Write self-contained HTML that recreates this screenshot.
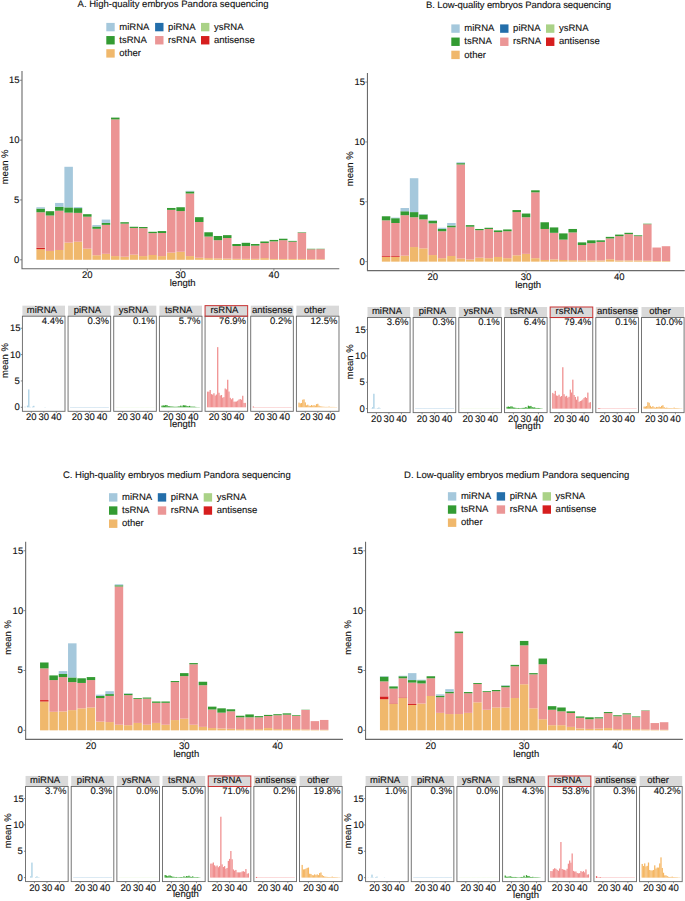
<!DOCTYPE html>
<html><head><meta charset="utf-8"><title>Pandora sequencing length distributions</title>
<style>
html,body{margin:0;padding:0;background:#fff;}
svg{display:block;text-rendering:geometricPrecision;}
.t{font-family:"Liberation Sans", sans-serif;font-size:9.5px;fill:#111;stroke:#111;stroke-width:0.12px;}
</style></head>
<body>
<svg width="685" height="901" viewBox="0 0 685 901">
<rect width="685" height="901" fill="#fff"/>
<text x="77.55" y="7.4" textLength="191" lengthAdjust="spacing" class="t">A. High-quality embryos Pandora sequencing</text>
<rect x="106.3" y="22.9" width="8.4" height="8.4" fill="#A5C8DC"/>
<text x="119.3" y="29.7" class="t">miRNA</text>
<rect x="155.1" y="22.9" width="8.4" height="8.4" fill="#236EAA"/>
<text x="168.1" y="29.7" class="t">piRNA</text>
<rect x="201" y="22.9" width="8.4" height="8.4" fill="#AAD287"/>
<text x="214" y="29.7" class="t">ysRNA</text>
<rect x="106.3" y="36.05" width="8.4" height="8.4" fill="#339B32"/>
<text x="119.3" y="42.85" class="t">tsRNA</text>
<rect x="155.1" y="36.05" width="8.4" height="8.4" fill="#EB9696"/>
<text x="168.1" y="42.85" class="t">rsRNA</text>
<rect x="201" y="36.05" width="8.4" height="8.4" fill="#D61E1E"/>
<text x="214" y="42.85" class="t">antisense</text>
<rect x="106.3" y="49.2" width="8.4" height="8.4" fill="#F0B86C"/>
<text x="119.3" y="56" class="t">other</text>
<g transform="translate(0,0)">
<rect x="36.4" y="249.15" width="8.5" height="10.65" fill="#F0B86C"/>
<rect x="36.4" y="247.83" width="8.5" height="1.32" fill="#D61E1E"/>
<rect x="36.4" y="212.28" width="8.5" height="35.55" fill="#EC9494"/>
<rect x="36.4" y="208.57" width="8.5" height="3.71" fill="#339B32"/>
<rect x="36.4" y="207.25" width="8.5" height="1.32" fill="#A5C8DC"/>
<rect x="45.73" y="250.94" width="8.5" height="8.86" fill="#F0B86C"/>
<rect x="45.73" y="215.51" width="8.5" height="35.43" fill="#EC9494"/>
<rect x="45.73" y="211.2" width="8.5" height="4.31" fill="#339B32"/>
<rect x="55.06" y="249.98" width="8.5" height="9.82" fill="#F0B86C"/>
<rect x="55.06" y="210.72" width="8.5" height="39.26" fill="#EC9494"/>
<rect x="55.06" y="206.77" width="8.5" height="3.95" fill="#339B32"/>
<rect x="55.06" y="202.94" width="8.5" height="3.83" fill="#A5C8DC"/>
<rect x="64.39" y="242.56" width="8.5" height="17.24" fill="#F0B86C"/>
<rect x="64.39" y="212.64" width="8.5" height="29.93" fill="#EC9494"/>
<rect x="64.39" y="207.37" width="8.5" height="5.27" fill="#339B32"/>
<rect x="64.39" y="166.79" width="8.5" height="40.58" fill="#A5C8DC"/>
<rect x="73.72" y="241.73" width="8.5" height="18.07" fill="#F0B86C"/>
<rect x="73.72" y="212.88" width="8.5" height="28.85" fill="#EC9494"/>
<rect x="73.72" y="208.09" width="8.5" height="4.79" fill="#339B32"/>
<rect x="73.72" y="207.13" width="8.5" height="0.96" fill="#A5C8DC"/>
<rect x="83.05" y="248.67" width="8.5" height="11.13" fill="#F0B86C"/>
<rect x="83.05" y="216.71" width="8.5" height="31.96" fill="#EC9494"/>
<rect x="83.05" y="214.19" width="8.5" height="2.51" fill="#339B32"/>
<rect x="92.38" y="255.25" width="8.5" height="4.55" fill="#F0B86C"/>
<rect x="92.38" y="228.8" width="8.5" height="26.45" fill="#EC9494"/>
<rect x="92.38" y="226.52" width="8.5" height="2.27" fill="#339B32"/>
<rect x="92.38" y="225.09" width="8.5" height="1.44" fill="#A5C8DC"/>
<rect x="101.71" y="253.81" width="8.5" height="5.99" fill="#F0B86C"/>
<rect x="101.71" y="224.85" width="8.5" height="28.97" fill="#EC9494"/>
<rect x="101.71" y="222.93" width="8.5" height="1.92" fill="#339B32"/>
<rect x="101.71" y="219.58" width="8.5" height="3.35" fill="#A5C8DC"/>
<rect x="111.04" y="256.09" width="8.5" height="3.71" fill="#F0B86C"/>
<rect x="111.04" y="119.39" width="8.5" height="136.7" fill="#EC9494"/>
<rect x="111.04" y="117.6" width="8.5" height="1.8" fill="#339B32"/>
<rect x="120.37" y="256.69" width="8.5" height="3.11" fill="#F0B86C"/>
<rect x="120.37" y="223.65" width="8.5" height="33.04" fill="#EC9494"/>
<rect x="120.37" y="222.21" width="8.5" height="1.44" fill="#339B32"/>
<rect x="129.7" y="254.65" width="8.5" height="5.15" fill="#F0B86C"/>
<rect x="129.7" y="227.96" width="8.5" height="26.69" fill="#EC9494"/>
<rect x="129.7" y="226.76" width="8.5" height="1.2" fill="#339B32"/>
<rect x="139.03" y="256.09" width="8.5" height="3.71" fill="#F0B86C"/>
<rect x="139.03" y="228.2" width="8.5" height="27.89" fill="#EC9494"/>
<rect x="139.03" y="227" width="8.5" height="1.2" fill="#339B32"/>
<rect x="148.36" y="255.01" width="8.5" height="4.79" fill="#F0B86C"/>
<rect x="148.36" y="233.11" width="8.5" height="21.91" fill="#EC9494"/>
<rect x="148.36" y="231.79" width="8.5" height="1.32" fill="#339B32"/>
<rect x="157.69" y="256.09" width="8.5" height="3.71" fill="#F0B86C"/>
<rect x="157.69" y="232.99" width="8.5" height="23.1" fill="#EC9494"/>
<rect x="157.69" y="231.07" width="8.5" height="1.92" fill="#339B32"/>
<rect x="167.02" y="252.62" width="8.5" height="7.18" fill="#F0B86C"/>
<rect x="167.02" y="209.89" width="8.5" height="42.73" fill="#EC9494"/>
<rect x="167.02" y="207.97" width="8.5" height="1.92" fill="#339B32"/>
<rect x="176.35" y="251.78" width="8.5" height="8.02" fill="#F0B86C"/>
<rect x="176.35" y="211.08" width="8.5" height="40.7" fill="#EC9494"/>
<rect x="176.35" y="207.25" width="8.5" height="3.83" fill="#339B32"/>
<rect x="185.68" y="256.09" width="8.5" height="3.71" fill="#F0B86C"/>
<rect x="185.68" y="193.49" width="8.5" height="62.6" fill="#EC9494"/>
<rect x="185.68" y="191.45" width="8.5" height="2.03" fill="#339B32"/>
<rect x="185.68" y="190.85" width="8.5" height="0.6" fill="#A5C8DC"/>
<rect x="195.01" y="257.77" width="8.5" height="2.03" fill="#F0B86C"/>
<rect x="195.01" y="221.97" width="8.5" height="35.79" fill="#EC9494"/>
<rect x="195.01" y="217.19" width="8.5" height="4.79" fill="#339B32"/>
<rect x="204.34" y="258.12" width="8.5" height="1.68" fill="#F0B86C"/>
<rect x="204.34" y="236.58" width="8.5" height="21.55" fill="#EC9494"/>
<rect x="204.34" y="232.27" width="8.5" height="4.31" fill="#339B32"/>
<rect x="213.67" y="258.36" width="8.5" height="1.44" fill="#F0B86C"/>
<rect x="213.67" y="240.17" width="8.5" height="18.19" fill="#EC9494"/>
<rect x="213.67" y="235.98" width="8.5" height="4.19" fill="#339B32"/>
<rect x="223" y="258.6" width="8.5" height="1.2" fill="#F0B86C"/>
<rect x="223" y="238.01" width="8.5" height="20.59" fill="#EC9494"/>
<rect x="223" y="235.14" width="8.5" height="2.87" fill="#339B32"/>
<rect x="232.33" y="258.84" width="8.5" height="0.96" fill="#F0B86C"/>
<rect x="232.33" y="246.03" width="8.5" height="12.81" fill="#EC9494"/>
<rect x="232.33" y="244" width="8.5" height="2.03" fill="#339B32"/>
<rect x="241.66" y="258.84" width="8.5" height="0.96" fill="#F0B86C"/>
<rect x="241.66" y="246.03" width="8.5" height="12.81" fill="#EC9494"/>
<rect x="241.66" y="242.8" width="8.5" height="3.23" fill="#339B32"/>
<rect x="250.99" y="258.84" width="8.5" height="0.96" fill="#F0B86C"/>
<rect x="250.99" y="245.68" width="8.5" height="13.17" fill="#EC9494"/>
<rect x="250.99" y="244" width="8.5" height="1.68" fill="#339B32"/>
<rect x="260.32" y="258.12" width="8.5" height="1.68" fill="#F0B86C"/>
<rect x="260.32" y="243.04" width="8.5" height="15.08" fill="#EC9494"/>
<rect x="260.32" y="241.49" width="8.5" height="1.56" fill="#339B32"/>
<rect x="269.65" y="258.96" width="8.5" height="0.84" fill="#F0B86C"/>
<rect x="269.65" y="241.37" width="8.5" height="17.6" fill="#EC9494"/>
<rect x="269.65" y="239.93" width="8.5" height="1.44" fill="#339B32"/>
<rect x="278.98" y="258.96" width="8.5" height="0.84" fill="#F0B86C"/>
<rect x="278.98" y="240.17" width="8.5" height="18.79" fill="#EC9494"/>
<rect x="278.98" y="238.73" width="8.5" height="1.44" fill="#339B32"/>
<rect x="288.31" y="258.96" width="8.5" height="0.84" fill="#F0B86C"/>
<rect x="288.31" y="241.73" width="8.5" height="17.24" fill="#EC9494"/>
<rect x="288.31" y="240.89" width="8.5" height="0.84" fill="#339B32"/>
<rect x="297.64" y="258.96" width="8.5" height="0.84" fill="#F0B86C"/>
<rect x="297.64" y="232.75" width="8.5" height="26.21" fill="#EC9494"/>
<rect x="297.64" y="232.27" width="8.5" height="0.48" fill="#339B32"/>
<rect x="306.97" y="259.2" width="8.5" height="0.6" fill="#F0B86C"/>
<rect x="306.97" y="249.27" width="8.5" height="9.94" fill="#EC9494"/>
<rect x="306.97" y="248.79" width="8.5" height="0.48" fill="#339B32"/>
<rect x="316.3" y="259.2" width="8.5" height="0.6" fill="#F0B86C"/>
<rect x="316.3" y="249.15" width="8.5" height="10.05" fill="#EC9494"/>
<rect x="316.3" y="248.79" width="8.5" height="0.36" fill="#339B32"/>
<path d="M22.0 71.1V268.8H339.3" fill="none" stroke="#6a6a6a" stroke-width="1.1"/>
<path d="M19.8 259.8H22.0" stroke="#6a6a6a" stroke-width="0.8"/>
<text x="19.25" y="262.7" text-anchor="end" class="t">0</text>
<path d="M19.8 199.95H22.0" stroke="#6a6a6a" stroke-width="0.8"/>
<text x="19.25" y="202.85" text-anchor="end" class="t">5</text>
<path d="M19.8 140.1H22.0" stroke="#6a6a6a" stroke-width="0.8"/>
<text x="19.55" y="143" text-anchor="end" class="t">10</text>
<path d="M19.8 80.25H22.0" stroke="#6a6a6a" stroke-width="0.8"/>
<text x="19.55" y="83.15" text-anchor="end" class="t">15</text>
<path d="M87.3 268.8V270.8" stroke="#6a6a6a" stroke-width="0.8"/>
<text x="87.3" y="278.0" text-anchor="middle" class="t">20</text>
<path d="M180.6 268.8V270.8" stroke="#6a6a6a" stroke-width="0.8"/>
<text x="180.6" y="278.0" text-anchor="middle" class="t">30</text>
<path d="M273.9 268.8V270.8" stroke="#6a6a6a" stroke-width="0.8"/>
<text x="273.9" y="278.0" text-anchor="middle" class="t">40</text>
<text x="182.7" y="286.1" text-anchor="middle" class="t">length</text>
<text transform="translate(7.8,166.9) rotate(-90)" text-anchor="middle" class="t">mean %</text>
</g>
<g transform="translate(0,0)">
<rect x="22.4" y="305.65" width="42.6" height="10.55" fill="#d9d9d9"/>
<text x="41.9" y="313.0" text-anchor="middle" class="t">miRNA</text>
<rect x="24.4" y="406.72" width="1.26" height="0.58" fill="#A6CEE3"/>
<rect x="26.9" y="405.61" width="1.26" height="1.69" fill="#A6CEE3"/>
<rect x="28.16" y="389.43" width="1.26" height="17.87" fill="#A6CEE3"/>
<rect x="29.41" y="406.88" width="1.26" height="0.42" fill="#A6CEE3"/>
<rect x="31.91" y="406.67" width="1.26" height="0.63" fill="#A6CEE3"/>
<rect x="33.16" y="405.82" width="1.26" height="1.48" fill="#A6CEE3"/>
<rect x="44.43" y="407.04" width="1.26" height="0.26" fill="#A6CEE3"/>
<rect x="22.4" y="316.2" width="42.6" height="95.1" fill="none" stroke="#666" stroke-width="0.9"/>
<text x="63.4" y="324.0" text-anchor="end" class="t">4.4%</text>
<path d="M31.29 411.3V412.90000000000003" stroke="#6a6a6a" stroke-width="0.7"/>
<text x="31.29" y="420.3" text-anchor="middle" class="t">20</text>
<path d="M43.81 411.3V412.90000000000003" stroke="#6a6a6a" stroke-width="0.7"/>
<text x="43.81" y="420.3" text-anchor="middle" class="t">30</text>
<path d="M56.33 411.3V412.90000000000003" stroke="#6a6a6a" stroke-width="0.7"/>
<text x="56.33" y="420.3" text-anchor="middle" class="t">40</text>
<rect x="68.06" y="305.65" width="42.6" height="10.55" fill="#d9d9d9"/>
<text x="87.46" y="313.0" text-anchor="middle" class="t">piRNA</text>
<rect x="70.06" y="407.14" width="1.26" height="0.16" fill="#1F78B4"/>
<rect x="71.32" y="407.14" width="1.26" height="0.16" fill="#1F78B4"/>
<rect x="72.57" y="407.14" width="1.26" height="0.16" fill="#1F78B4"/>
<rect x="73.82" y="407.14" width="1.26" height="0.16" fill="#1F78B4"/>
<rect x="75.07" y="407.14" width="1.26" height="0.16" fill="#1F78B4"/>
<rect x="76.33" y="407.14" width="1.26" height="0.16" fill="#1F78B4"/>
<rect x="77.58" y="407.14" width="1.26" height="0.16" fill="#1F78B4"/>
<rect x="78.83" y="407.14" width="1.26" height="0.16" fill="#1F78B4"/>
<rect x="80.08" y="407.14" width="1.26" height="0.16" fill="#1F78B4"/>
<rect x="81.33" y="407.14" width="1.26" height="0.16" fill="#1F78B4"/>
<rect x="82.58" y="407.14" width="1.26" height="0.16" fill="#1F78B4"/>
<rect x="83.84" y="407.14" width="1.26" height="0.16" fill="#1F78B4"/>
<rect x="85.09" y="407.14" width="1.26" height="0.16" fill="#1F78B4"/>
<rect x="86.34" y="407.14" width="1.26" height="0.16" fill="#1F78B4"/>
<rect x="87.59" y="407.14" width="1.26" height="0.16" fill="#1F78B4"/>
<rect x="88.84" y="407.14" width="1.26" height="0.16" fill="#1F78B4"/>
<rect x="90.1" y="407.14" width="1.26" height="0.16" fill="#1F78B4"/>
<rect x="91.35" y="407.14" width="1.26" height="0.16" fill="#1F78B4"/>
<rect x="92.6" y="407.14" width="1.26" height="0.16" fill="#1F78B4"/>
<rect x="93.85" y="407.14" width="1.26" height="0.16" fill="#1F78B4"/>
<rect x="95.1" y="407.14" width="1.26" height="0.16" fill="#1F78B4"/>
<rect x="96.36" y="407.14" width="1.26" height="0.16" fill="#1F78B4"/>
<rect x="97.61" y="407.14" width="1.26" height="0.16" fill="#1F78B4"/>
<rect x="98.86" y="407.14" width="1.26" height="0.16" fill="#1F78B4"/>
<rect x="100.11" y="407.14" width="1.26" height="0.16" fill="#1F78B4"/>
<rect x="101.36" y="407.14" width="1.26" height="0.16" fill="#1F78B4"/>
<rect x="102.62" y="407.14" width="1.26" height="0.16" fill="#1F78B4"/>
<rect x="103.87" y="407.14" width="1.26" height="0.16" fill="#1F78B4"/>
<rect x="105.12" y="407.14" width="1.26" height="0.16" fill="#1F78B4"/>
<rect x="106.37" y="407.14" width="1.26" height="0.16" fill="#1F78B4"/>
<rect x="107.62" y="407.14" width="1.26" height="0.16" fill="#1F78B4"/>
<rect x="68.06" y="316.2" width="42.6" height="95.1" fill="none" stroke="#666" stroke-width="0.9"/>
<text x="109.06" y="324.0" text-anchor="end" class="t">0.3%</text>
<path d="M76.95 411.3V412.90000000000003" stroke="#6a6a6a" stroke-width="0.7"/>
<text x="76.95" y="420.3" text-anchor="middle" class="t">20</text>
<path d="M89.47 411.3V412.90000000000003" stroke="#6a6a6a" stroke-width="0.7"/>
<text x="89.47" y="420.3" text-anchor="middle" class="t">30</text>
<path d="M101.99 411.3V412.90000000000003" stroke="#6a6a6a" stroke-width="0.7"/>
<text x="101.99" y="420.3" text-anchor="middle" class="t">40</text>
<rect x="113.73" y="305.65" width="42.6" height="10.55" fill="#d9d9d9"/>
<text x="133.53" y="313.0" text-anchor="middle" class="t">ysRNA</text>
<rect x="115.73" y="407.19" width="1.26" height="0.11" fill="#B2DF8A"/>
<rect x="116.98" y="407.19" width="1.26" height="0.11" fill="#B2DF8A"/>
<rect x="118.23" y="407.19" width="1.26" height="0.11" fill="#B2DF8A"/>
<rect x="119.49" y="407.19" width="1.26" height="0.11" fill="#B2DF8A"/>
<rect x="120.74" y="407.19" width="1.26" height="0.11" fill="#B2DF8A"/>
<rect x="121.99" y="407.19" width="1.26" height="0.11" fill="#B2DF8A"/>
<rect x="123.24" y="407.19" width="1.26" height="0.11" fill="#B2DF8A"/>
<rect x="124.49" y="407.19" width="1.26" height="0.11" fill="#B2DF8A"/>
<rect x="125.75" y="407.19" width="1.26" height="0.11" fill="#B2DF8A"/>
<rect x="127" y="407.19" width="1.26" height="0.11" fill="#B2DF8A"/>
<rect x="128.25" y="407.19" width="1.26" height="0.11" fill="#B2DF8A"/>
<rect x="129.5" y="407.19" width="1.26" height="0.11" fill="#B2DF8A"/>
<rect x="130.75" y="407.19" width="1.26" height="0.11" fill="#B2DF8A"/>
<rect x="132.01" y="407.19" width="1.26" height="0.11" fill="#B2DF8A"/>
<rect x="133.26" y="407.19" width="1.26" height="0.11" fill="#B2DF8A"/>
<rect x="134.51" y="407.19" width="1.26" height="0.11" fill="#B2DF8A"/>
<rect x="135.76" y="407.19" width="1.26" height="0.11" fill="#B2DF8A"/>
<rect x="137.01" y="407.19" width="1.26" height="0.11" fill="#B2DF8A"/>
<rect x="138.27" y="407.19" width="1.26" height="0.11" fill="#B2DF8A"/>
<rect x="139.52" y="407.19" width="1.26" height="0.11" fill="#B2DF8A"/>
<rect x="140.77" y="407.19" width="1.26" height="0.11" fill="#B2DF8A"/>
<rect x="142.02" y="407.19" width="1.26" height="0.11" fill="#B2DF8A"/>
<rect x="143.27" y="407.19" width="1.26" height="0.11" fill="#B2DF8A"/>
<rect x="144.53" y="407.19" width="1.26" height="0.11" fill="#B2DF8A"/>
<rect x="145.78" y="407.19" width="1.26" height="0.11" fill="#B2DF8A"/>
<rect x="147.03" y="407.19" width="1.26" height="0.11" fill="#B2DF8A"/>
<rect x="148.28" y="407.19" width="1.26" height="0.11" fill="#B2DF8A"/>
<rect x="149.53" y="407.19" width="1.26" height="0.11" fill="#B2DF8A"/>
<rect x="150.79" y="407.19" width="1.26" height="0.11" fill="#B2DF8A"/>
<rect x="152.04" y="407.19" width="1.26" height="0.11" fill="#B2DF8A"/>
<rect x="153.29" y="407.19" width="1.26" height="0.11" fill="#B2DF8A"/>
<rect x="113.73" y="316.2" width="42.6" height="95.1" fill="none" stroke="#666" stroke-width="0.9"/>
<text x="154.73" y="324.0" text-anchor="end" class="t">0.1%</text>
<path d="M122.62 411.3V412.90000000000003" stroke="#6a6a6a" stroke-width="0.7"/>
<text x="122.62" y="420.3" text-anchor="middle" class="t">20</text>
<path d="M135.14 411.3V412.90000000000003" stroke="#6a6a6a" stroke-width="0.7"/>
<text x="135.14" y="420.3" text-anchor="middle" class="t">30</text>
<path d="M147.66 411.3V412.90000000000003" stroke="#6a6a6a" stroke-width="0.7"/>
<text x="147.66" y="420.3" text-anchor="middle" class="t">40</text>
<rect x="159.4" y="305.65" width="42.6" height="10.55" fill="#d9d9d9"/>
<text x="178.7" y="313.0" text-anchor="middle" class="t">tsRNA</text>
<rect x="161.4" y="405.67" width="1.26" height="1.63" fill="#33A02C"/>
<rect x="162.65" y="405.4" width="1.26" height="1.9" fill="#33A02C"/>
<rect x="163.9" y="405.56" width="1.26" height="1.74" fill="#33A02C"/>
<rect x="165.15" y="404.98" width="1.26" height="2.32" fill="#33A02C"/>
<rect x="166.4" y="405.19" width="1.26" height="2.11" fill="#33A02C"/>
<rect x="167.66" y="406.19" width="1.26" height="1.11" fill="#33A02C"/>
<rect x="168.91" y="406.3" width="1.26" height="1" fill="#33A02C"/>
<rect x="170.16" y="406.46" width="1.26" height="0.84" fill="#33A02C"/>
<rect x="171.41" y="406.51" width="1.26" height="0.79" fill="#33A02C"/>
<rect x="172.66" y="406.67" width="1.26" height="0.63" fill="#33A02C"/>
<rect x="173.92" y="406.77" width="1.26" height="0.53" fill="#33A02C"/>
<rect x="175.17" y="406.77" width="1.26" height="0.53" fill="#33A02C"/>
<rect x="176.42" y="406.72" width="1.26" height="0.58" fill="#33A02C"/>
<rect x="177.67" y="406.46" width="1.26" height="0.84" fill="#33A02C"/>
<rect x="178.92" y="406.46" width="1.26" height="0.84" fill="#33A02C"/>
<rect x="180.18" y="405.61" width="1.26" height="1.69" fill="#33A02C"/>
<rect x="181.43" y="406.4" width="1.26" height="0.9" fill="#33A02C"/>
<rect x="182.68" y="405.19" width="1.26" height="2.11" fill="#33A02C"/>
<rect x="183.93" y="405.4" width="1.26" height="1.9" fill="#33A02C"/>
<rect x="185.18" y="405.46" width="1.26" height="1.84" fill="#33A02C"/>
<rect x="186.44" y="406.04" width="1.26" height="1.26" fill="#33A02C"/>
<rect x="187.69" y="406.4" width="1.26" height="0.9" fill="#33A02C"/>
<rect x="188.94" y="405.88" width="1.26" height="1.42" fill="#33A02C"/>
<rect x="190.19" y="406.56" width="1.26" height="0.74" fill="#33A02C"/>
<rect x="191.44" y="406.61" width="1.26" height="0.69" fill="#33A02C"/>
<rect x="192.7" y="406.67" width="1.26" height="0.63" fill="#33A02C"/>
<rect x="193.95" y="406.67" width="1.26" height="0.63" fill="#33A02C"/>
<rect x="195.2" y="406.93" width="1.26" height="0.37" fill="#33A02C"/>
<rect x="196.45" y="407.09" width="1.26" height="0.21" fill="#33A02C"/>
<rect x="197.7" y="407.09" width="1.26" height="0.21" fill="#33A02C"/>
<rect x="198.96" y="407.14" width="1.26" height="0.16" fill="#33A02C"/>
<rect x="159.4" y="316.2" width="42.6" height="95.1" fill="none" stroke="#666" stroke-width="0.9"/>
<text x="200.4" y="324.0" text-anchor="end" class="t">5.7%</text>
<path d="M168.28 411.3V412.90000000000003" stroke="#6a6a6a" stroke-width="0.7"/>
<text x="168.28" y="420.3" text-anchor="middle" class="t">20</text>
<path d="M180.81 411.3V412.90000000000003" stroke="#6a6a6a" stroke-width="0.7"/>
<text x="180.81" y="420.3" text-anchor="middle" class="t">30</text>
<path d="M193.33 411.3V412.90000000000003" stroke="#6a6a6a" stroke-width="0.7"/>
<text x="193.33" y="420.3" text-anchor="middle" class="t">40</text>
<rect x="205.06" y="305.65" width="42.6" height="10.55" fill="#d9d9d9"/>
<text x="224.46" y="313.0" text-anchor="middle" class="t">rsRNA</text>
<rect x="207.06" y="391.65" width="1.26" height="15.65" fill="#F08F8F"/>
<rect x="208.31" y="391.7" width="1.26" height="15.6" fill="#F08F8F"/>
<rect x="209.56" y="390.01" width="1.26" height="17.29" fill="#F08F8F"/>
<rect x="210.82" y="394.12" width="1.26" height="13.17" fill="#F08F8F"/>
<rect x="212.07" y="394.6" width="1.26" height="12.7" fill="#F08F8F"/>
<rect x="213.32" y="393.23" width="1.26" height="14.07" fill="#F08F8F"/>
<rect x="214.57" y="395.65" width="1.26" height="11.65" fill="#F08F8F"/>
<rect x="215.82" y="394.55" width="1.26" height="12.75" fill="#F08F8F"/>
<rect x="217.08" y="347.12" width="1.26" height="60.18" fill="#F08F8F"/>
<rect x="218.33" y="392.75" width="1.26" height="14.55" fill="#F08F8F"/>
<rect x="219.58" y="395.55" width="1.26" height="11.75" fill="#F08F8F"/>
<rect x="220.83" y="395.02" width="1.26" height="12.28" fill="#F08F8F"/>
<rect x="222.08" y="397.66" width="1.26" height="9.64" fill="#F08F8F"/>
<rect x="223.34" y="397.13" width="1.26" height="10.17" fill="#F08F8F"/>
<rect x="224.59" y="388.49" width="1.26" height="18.81" fill="#F08F8F"/>
<rect x="225.84" y="389.38" width="1.26" height="17.92" fill="#F08F8F"/>
<rect x="227.09" y="379.74" width="1.26" height="27.56" fill="#F08F8F"/>
<rect x="228.34" y="391.54" width="1.26" height="15.76" fill="#F08F8F"/>
<rect x="229.6" y="397.81" width="1.26" height="9.49" fill="#F08F8F"/>
<rect x="230.85" y="399.29" width="1.26" height="8.01" fill="#F08F8F"/>
<rect x="232.1" y="398.24" width="1.26" height="9.06" fill="#F08F8F"/>
<rect x="233.35" y="401.66" width="1.26" height="5.64" fill="#F08F8F"/>
<rect x="234.6" y="401.66" width="1.26" height="5.64" fill="#F08F8F"/>
<rect x="235.86" y="401.5" width="1.26" height="5.8" fill="#F08F8F"/>
<rect x="237.11" y="400.66" width="1.26" height="6.64" fill="#F08F8F"/>
<rect x="238.36" y="399.55" width="1.26" height="7.75" fill="#F08F8F"/>
<rect x="239.61" y="399.03" width="1.26" height="8.27" fill="#F08F8F"/>
<rect x="240.86" y="399.71" width="1.26" height="7.59" fill="#F08F8F"/>
<rect x="242.12" y="395.76" width="1.26" height="11.54" fill="#F08F8F"/>
<rect x="243.37" y="402.93" width="1.26" height="4.37" fill="#F08F8F"/>
<rect x="244.62" y="402.87" width="1.26" height="4.43" fill="#F08F8F"/>
<rect x="205.06" y="316.2" width="42.6" height="95.1" fill="none" stroke="#666" stroke-width="0.9"/>
<text x="246.06" y="324.0" text-anchor="end" class="t">76.9%</text>
<path d="M213.95 411.3V412.90000000000003" stroke="#6a6a6a" stroke-width="0.7"/>
<text x="213.95" y="420.3" text-anchor="middle" class="t">20</text>
<path d="M226.47 411.3V412.90000000000003" stroke="#6a6a6a" stroke-width="0.7"/>
<text x="226.47" y="420.3" text-anchor="middle" class="t">30</text>
<path d="M238.99 411.3V412.90000000000003" stroke="#6a6a6a" stroke-width="0.7"/>
<text x="238.99" y="420.3" text-anchor="middle" class="t">40</text>
<rect x="205.06" y="305.65" width="42.6" height="10.55" fill="none" stroke="#C83232" stroke-width="1"/>
<rect x="250.72" y="305.65" width="42.6" height="10.55" fill="#d9d9d9"/>
<text x="272.32" y="313.0" text-anchor="middle" class="t">antisense</text>
<rect x="252.72" y="406.72" width="1.26" height="0.58" fill="#E31A1C"/>
<rect x="253.98" y="407.14" width="1.26" height="0.16" fill="#E31A1C"/>
<rect x="255.23" y="407.14" width="1.26" height="0.16" fill="#E31A1C"/>
<rect x="256.48" y="407.14" width="1.26" height="0.16" fill="#E31A1C"/>
<rect x="257.73" y="407.14" width="1.26" height="0.16" fill="#E31A1C"/>
<rect x="258.99" y="407.14" width="1.26" height="0.16" fill="#E31A1C"/>
<rect x="260.24" y="407.14" width="1.26" height="0.16" fill="#E31A1C"/>
<rect x="261.49" y="407.14" width="1.26" height="0.16" fill="#E31A1C"/>
<rect x="262.74" y="407.14" width="1.26" height="0.16" fill="#E31A1C"/>
<rect x="263.99" y="407.14" width="1.26" height="0.16" fill="#E31A1C"/>
<rect x="265.25" y="407.14" width="1.26" height="0.16" fill="#E31A1C"/>
<rect x="266.5" y="407.14" width="1.26" height="0.16" fill="#E31A1C"/>
<rect x="267.75" y="407.14" width="1.26" height="0.16" fill="#E31A1C"/>
<rect x="269" y="407.14" width="1.26" height="0.16" fill="#E31A1C"/>
<rect x="270.25" y="407.14" width="1.26" height="0.16" fill="#E31A1C"/>
<rect x="271.5" y="407.14" width="1.26" height="0.16" fill="#E31A1C"/>
<rect x="272.76" y="407.14" width="1.26" height="0.16" fill="#E31A1C"/>
<rect x="274.01" y="407.14" width="1.26" height="0.16" fill="#E31A1C"/>
<rect x="275.26" y="407.14" width="1.26" height="0.16" fill="#E31A1C"/>
<rect x="276.51" y="407.14" width="1.26" height="0.16" fill="#E31A1C"/>
<rect x="277.76" y="407.14" width="1.26" height="0.16" fill="#E31A1C"/>
<rect x="279.02" y="407.14" width="1.26" height="0.16" fill="#E31A1C"/>
<rect x="280.27" y="407.14" width="1.26" height="0.16" fill="#E31A1C"/>
<rect x="281.52" y="407.14" width="1.26" height="0.16" fill="#E31A1C"/>
<rect x="282.77" y="407.14" width="1.26" height="0.16" fill="#E31A1C"/>
<rect x="284.02" y="407.14" width="1.26" height="0.16" fill="#E31A1C"/>
<rect x="285.28" y="407.14" width="1.26" height="0.16" fill="#E31A1C"/>
<rect x="286.53" y="407.14" width="1.26" height="0.16" fill="#E31A1C"/>
<rect x="287.78" y="407.14" width="1.26" height="0.16" fill="#E31A1C"/>
<rect x="289.03" y="407.14" width="1.26" height="0.16" fill="#E31A1C"/>
<rect x="290.28" y="407.14" width="1.26" height="0.16" fill="#E31A1C"/>
<rect x="250.72" y="316.2" width="42.6" height="95.1" fill="none" stroke="#666" stroke-width="0.9"/>
<text x="291.72" y="324.0" text-anchor="end" class="t">0.2%</text>
<path d="M259.62 411.3V412.90000000000003" stroke="#6a6a6a" stroke-width="0.7"/>
<text x="259.62" y="420.3" text-anchor="middle" class="t">20</text>
<path d="M272.13 411.3V412.90000000000003" stroke="#6a6a6a" stroke-width="0.7"/>
<text x="272.13" y="420.3" text-anchor="middle" class="t">30</text>
<path d="M284.65 411.3V412.90000000000003" stroke="#6a6a6a" stroke-width="0.7"/>
<text x="284.65" y="420.3" text-anchor="middle" class="t">40</text>
<rect x="296.39" y="305.65" width="42.6" height="10.55" fill="#d9d9d9"/>
<text x="314.89" y="313.0" text-anchor="middle" class="t">other</text>
<rect x="298.39" y="402.61" width="1.26" height="4.69" fill="#F5B764"/>
<rect x="299.64" y="403.4" width="1.26" height="3.9" fill="#F5B764"/>
<rect x="300.89" y="402.98" width="1.26" height="4.32" fill="#F5B764"/>
<rect x="302.15" y="399.71" width="1.26" height="7.59" fill="#F5B764"/>
<rect x="303.4" y="399.34" width="1.26" height="7.96" fill="#F5B764"/>
<rect x="304.65" y="402.4" width="1.26" height="4.9" fill="#F5B764"/>
<rect x="305.9" y="405.3" width="1.26" height="2" fill="#F5B764"/>
<rect x="307.15" y="404.67" width="1.26" height="2.63" fill="#F5B764"/>
<rect x="308.41" y="405.67" width="1.26" height="1.63" fill="#F5B764"/>
<rect x="309.66" y="405.93" width="1.26" height="1.37" fill="#F5B764"/>
<rect x="310.91" y="405.03" width="1.26" height="2.27" fill="#F5B764"/>
<rect x="312.16" y="405.67" width="1.26" height="1.63" fill="#F5B764"/>
<rect x="313.41" y="405.19" width="1.26" height="2.11" fill="#F5B764"/>
<rect x="314.67" y="405.67" width="1.26" height="1.63" fill="#F5B764"/>
<rect x="315.92" y="404.14" width="1.26" height="3.16" fill="#F5B764"/>
<rect x="317.17" y="403.77" width="1.26" height="3.53" fill="#F5B764"/>
<rect x="318.42" y="405.67" width="1.26" height="1.63" fill="#F5B764"/>
<rect x="319.67" y="406.4" width="1.26" height="0.9" fill="#F5B764"/>
<rect x="320.93" y="406.56" width="1.26" height="0.74" fill="#F5B764"/>
<rect x="322.18" y="406.67" width="1.26" height="0.63" fill="#F5B764"/>
<rect x="323.43" y="406.77" width="1.26" height="0.53" fill="#F5B764"/>
<rect x="324.68" y="406.88" width="1.26" height="0.42" fill="#F5B764"/>
<rect x="325.93" y="406.88" width="1.26" height="0.42" fill="#F5B764"/>
<rect x="327.19" y="406.88" width="1.26" height="0.42" fill="#F5B764"/>
<rect x="328.44" y="406.56" width="1.26" height="0.74" fill="#F5B764"/>
<rect x="329.69" y="406.93" width="1.26" height="0.37" fill="#F5B764"/>
<rect x="330.94" y="406.93" width="1.26" height="0.37" fill="#F5B764"/>
<rect x="332.19" y="406.93" width="1.26" height="0.37" fill="#F5B764"/>
<rect x="333.45" y="406.93" width="1.26" height="0.37" fill="#F5B764"/>
<rect x="334.7" y="407.04" width="1.26" height="0.26" fill="#F5B764"/>
<rect x="335.95" y="407.04" width="1.26" height="0.26" fill="#F5B764"/>
<rect x="296.39" y="316.2" width="42.6" height="95.1" fill="none" stroke="#666" stroke-width="0.9"/>
<text x="337.39" y="324.0" text-anchor="end" class="t">12.5%</text>
<path d="M305.28 411.3V412.90000000000003" stroke="#6a6a6a" stroke-width="0.7"/>
<text x="305.28" y="420.3" text-anchor="middle" class="t">20</text>
<path d="M317.8 411.3V412.90000000000003" stroke="#6a6a6a" stroke-width="0.7"/>
<text x="317.8" y="420.3" text-anchor="middle" class="t">30</text>
<path d="M330.32 411.3V412.90000000000003" stroke="#6a6a6a" stroke-width="0.7"/>
<text x="330.32" y="420.3" text-anchor="middle" class="t">40</text>
<path d="M20.799999999999997 407.3H22.4" stroke="#6a6a6a" stroke-width="0.8"/>
<text x="19.75" y="410.4" text-anchor="end" class="t">0</text>
<path d="M20.799999999999997 380.95H22.4" stroke="#6a6a6a" stroke-width="0.8"/>
<text x="19.75" y="384.05" text-anchor="end" class="t">5</text>
<path d="M20.799999999999997 354.6H22.4" stroke="#6a6a6a" stroke-width="0.8"/>
<text x="20.6" y="357.7" text-anchor="end" class="t">10</text>
<path d="M20.799999999999997 328.25H22.4" stroke="#6a6a6a" stroke-width="0.8"/>
<text x="20.6" y="331.35" text-anchor="end" class="t">15</text>
<text x="182.8" y="427.2" text-anchor="middle" class="t">length</text>
<text transform="translate(8.2,360.5) rotate(-90)" text-anchor="middle" class="t">mean %</text>
</g>
<text x="425.95" y="8.3" textLength="185" lengthAdjust="spacing" class="t">B. Low-quality embryos Pandora sequencing</text>
<rect x="451.3" y="24.4" width="8.4" height="8.4" fill="#A5C8DC"/>
<text x="464.3" y="31.2" class="t">miRNA</text>
<rect x="500.1" y="24.4" width="8.4" height="8.4" fill="#236EAA"/>
<text x="513.1" y="31.2" class="t">piRNA</text>
<rect x="546" y="24.4" width="8.4" height="8.4" fill="#AAD287"/>
<text x="559" y="31.2" class="t">ysRNA</text>
<rect x="451.3" y="37.55" width="8.4" height="8.4" fill="#339B32"/>
<text x="464.3" y="44.35" class="t">tsRNA</text>
<rect x="500.1" y="37.55" width="8.4" height="8.4" fill="#EB9696"/>
<text x="513.1" y="44.35" class="t">rsRNA</text>
<rect x="546" y="37.55" width="8.4" height="8.4" fill="#D61E1E"/>
<text x="559" y="44.35" class="t">antisense</text>
<rect x="451.3" y="50.7" width="8.4" height="8.4" fill="#F0B86C"/>
<text x="464.3" y="57.5" class="t">other</text>
<g transform="translate(345.45,1.85)">
<rect x="36.4" y="255.13" width="8.5" height="4.67" fill="#F0B86C"/>
<rect x="36.4" y="254.29" width="8.5" height="0.84" fill="#D61E1E"/>
<rect x="36.4" y="218.5" width="8.5" height="35.79" fill="#EC9494"/>
<rect x="36.4" y="214.43" width="8.5" height="4.07" fill="#339B32"/>
<rect x="45.73" y="255.13" width="8.5" height="4.67" fill="#F0B86C"/>
<rect x="45.73" y="254.29" width="8.5" height="0.84" fill="#D61E1E"/>
<rect x="45.73" y="221.14" width="8.5" height="33.16" fill="#EC9494"/>
<rect x="45.73" y="216.35" width="8.5" height="4.79" fill="#339B32"/>
<rect x="45.73" y="215.75" width="8.5" height="0.6" fill="#A5C8DC"/>
<rect x="55.06" y="253.81" width="8.5" height="5.99" fill="#F0B86C"/>
<rect x="55.06" y="213.36" width="8.5" height="40.46" fill="#EC9494"/>
<rect x="55.06" y="209.41" width="8.5" height="3.95" fill="#339B32"/>
<rect x="55.06" y="206.17" width="8.5" height="3.23" fill="#A5C8DC"/>
<rect x="64.39" y="245.2" width="8.5" height="14.6" fill="#F0B86C"/>
<rect x="64.39" y="215.39" width="8.5" height="29.81" fill="#EC9494"/>
<rect x="64.39" y="210.24" width="8.5" height="5.15" fill="#339B32"/>
<rect x="64.39" y="176.37" width="8.5" height="33.88" fill="#A5C8DC"/>
<rect x="73.72" y="246.51" width="8.5" height="13.29" fill="#F0B86C"/>
<rect x="73.72" y="217.55" width="8.5" height="28.97" fill="#EC9494"/>
<rect x="73.72" y="212.64" width="8.5" height="4.91" fill="#339B32"/>
<rect x="73.72" y="212.16" width="8.5" height="0.48" fill="#A5C8DC"/>
<rect x="83.05" y="253.22" width="8.5" height="6.58" fill="#F0B86C"/>
<rect x="83.05" y="221.5" width="8.5" height="31.72" fill="#EC9494"/>
<rect x="83.05" y="218.86" width="8.5" height="2.63" fill="#339B32"/>
<rect x="83.05" y="218.5" width="8.5" height="0.36" fill="#A5C8DC"/>
<rect x="92.38" y="256.33" width="8.5" height="3.47" fill="#F0B86C"/>
<rect x="92.38" y="229.4" width="8.5" height="26.93" fill="#EC9494"/>
<rect x="92.38" y="227.12" width="8.5" height="2.27" fill="#339B32"/>
<rect x="92.38" y="225.92" width="8.5" height="1.2" fill="#A5C8DC"/>
<rect x="101.71" y="254.17" width="8.5" height="5.63" fill="#F0B86C"/>
<rect x="101.71" y="225.45" width="8.5" height="28.73" fill="#EC9494"/>
<rect x="101.71" y="223.65" width="8.5" height="1.8" fill="#339B32"/>
<rect x="101.71" y="221.14" width="8.5" height="2.51" fill="#A5C8DC"/>
<rect x="111.04" y="256.69" width="8.5" height="3.11" fill="#F0B86C"/>
<rect x="111.04" y="162.6" width="8.5" height="94.08" fill="#EC9494"/>
<rect x="111.04" y="161.29" width="8.5" height="1.32" fill="#339B32"/>
<rect x="111.04" y="160.45" width="8.5" height="0.84" fill="#A5C8DC"/>
<rect x="120.37" y="257.65" width="8.5" height="2.15" fill="#F0B86C"/>
<rect x="120.37" y="224.85" width="8.5" height="32.8" fill="#EC9494"/>
<rect x="120.37" y="223.29" width="8.5" height="1.56" fill="#339B32"/>
<rect x="129.7" y="255.85" width="8.5" height="3.95" fill="#F0B86C"/>
<rect x="129.7" y="228.32" width="8.5" height="27.53" fill="#EC9494"/>
<rect x="129.7" y="227.12" width="8.5" height="1.2" fill="#339B32"/>
<rect x="139.03" y="256.33" width="8.5" height="3.47" fill="#F0B86C"/>
<rect x="139.03" y="227.12" width="8.5" height="29.21" fill="#EC9494"/>
<rect x="139.03" y="225.92" width="8.5" height="1.2" fill="#339B32"/>
<rect x="148.36" y="255.13" width="8.5" height="4.67" fill="#F0B86C"/>
<rect x="148.36" y="230.23" width="8.5" height="24.9" fill="#EC9494"/>
<rect x="148.36" y="228.56" width="8.5" height="1.68" fill="#339B32"/>
<rect x="157.69" y="256.33" width="8.5" height="3.47" fill="#F0B86C"/>
<rect x="157.69" y="229.4" width="8.5" height="26.93" fill="#EC9494"/>
<rect x="157.69" y="227.6" width="8.5" height="1.8" fill="#339B32"/>
<rect x="167.02" y="253.46" width="8.5" height="6.34" fill="#F0B86C"/>
<rect x="167.02" y="210.24" width="8.5" height="43.21" fill="#EC9494"/>
<rect x="167.02" y="208.21" width="8.5" height="2.03" fill="#339B32"/>
<rect x="176.35" y="252.02" width="8.5" height="7.78" fill="#F0B86C"/>
<rect x="176.35" y="215.39" width="8.5" height="36.63" fill="#EC9494"/>
<rect x="176.35" y="211.68" width="8.5" height="3.71" fill="#339B32"/>
<rect x="185.68" y="256.33" width="8.5" height="3.47" fill="#F0B86C"/>
<rect x="185.68" y="190.49" width="8.5" height="65.84" fill="#EC9494"/>
<rect x="185.68" y="188.46" width="8.5" height="2.03" fill="#339B32"/>
<rect x="195.01" y="258.12" width="8.5" height="1.68" fill="#F0B86C"/>
<rect x="195.01" y="227.12" width="8.5" height="31" fill="#EC9494"/>
<rect x="195.01" y="220.42" width="8.5" height="6.7" fill="#339B32"/>
<rect x="204.34" y="257.53" width="8.5" height="2.27" fill="#F0B86C"/>
<rect x="204.34" y="230.95" width="8.5" height="26.57" fill="#EC9494"/>
<rect x="204.34" y="225.57" width="8.5" height="5.39" fill="#339B32"/>
<rect x="213.67" y="258.12" width="8.5" height="1.68" fill="#F0B86C"/>
<rect x="213.67" y="237.78" width="8.5" height="20.35" fill="#EC9494"/>
<rect x="213.67" y="231.55" width="8.5" height="6.22" fill="#339B32"/>
<rect x="223" y="258.36" width="8.5" height="1.44" fill="#F0B86C"/>
<rect x="223" y="230.59" width="8.5" height="27.77" fill="#EC9494"/>
<rect x="223" y="227.12" width="8.5" height="3.47" fill="#339B32"/>
<rect x="232.33" y="258.6" width="8.5" height="1.2" fill="#F0B86C"/>
<rect x="232.33" y="243.16" width="8.5" height="15.44" fill="#EC9494"/>
<rect x="232.33" y="240.53" width="8.5" height="2.63" fill="#339B32"/>
<rect x="241.66" y="258.6" width="8.5" height="1.2" fill="#F0B86C"/>
<rect x="241.66" y="241.37" width="8.5" height="17.24" fill="#EC9494"/>
<rect x="241.66" y="238.49" width="8.5" height="2.87" fill="#339B32"/>
<rect x="250.99" y="258.6" width="8.5" height="1.2" fill="#F0B86C"/>
<rect x="250.99" y="240.05" width="8.5" height="18.55" fill="#EC9494"/>
<rect x="250.99" y="238.49" width="8.5" height="1.56" fill="#339B32"/>
<rect x="260.32" y="257.41" width="8.5" height="2.39" fill="#F0B86C"/>
<rect x="260.32" y="236.58" width="8.5" height="20.83" fill="#EC9494"/>
<rect x="260.32" y="235.02" width="8.5" height="1.56" fill="#339B32"/>
<rect x="269.65" y="258.6" width="8.5" height="1.2" fill="#F0B86C"/>
<rect x="269.65" y="234.3" width="8.5" height="24.3" fill="#EC9494"/>
<rect x="269.65" y="232.75" width="8.5" height="1.56" fill="#339B32"/>
<rect x="278.98" y="258.6" width="8.5" height="1.2" fill="#F0B86C"/>
<rect x="278.98" y="232.27" width="8.5" height="26.33" fill="#EC9494"/>
<rect x="278.98" y="230.95" width="8.5" height="1.32" fill="#339B32"/>
<rect x="288.31" y="258.6" width="8.5" height="1.2" fill="#F0B86C"/>
<rect x="288.31" y="234.3" width="8.5" height="24.3" fill="#EC9494"/>
<rect x="288.31" y="233.47" width="8.5" height="0.84" fill="#339B32"/>
<rect x="297.64" y="258.84" width="8.5" height="0.96" fill="#F0B86C"/>
<rect x="297.64" y="222.33" width="8.5" height="36.51" fill="#EC9494"/>
<rect x="297.64" y="221.86" width="8.5" height="0.48" fill="#339B32"/>
<rect x="306.97" y="259.2" width="8.5" height="0.6" fill="#F0B86C"/>
<rect x="306.97" y="245.68" width="8.5" height="13.53" fill="#EC9494"/>
<rect x="316.3" y="259.2" width="8.5" height="0.6" fill="#F0B86C"/>
<rect x="316.3" y="244.36" width="8.5" height="14.84" fill="#EC9494"/>
<path d="M22.0 71.1V268.8H339.3" fill="none" stroke="#6a6a6a" stroke-width="1.1"/>
<path d="M19.8 259.8H22.0" stroke="#6a6a6a" stroke-width="0.8"/>
<text x="19.25" y="262.7" text-anchor="end" class="t">0</text>
<path d="M19.8 199.95H22.0" stroke="#6a6a6a" stroke-width="0.8"/>
<text x="19.25" y="202.85" text-anchor="end" class="t">5</text>
<path d="M19.8 140.1H22.0" stroke="#6a6a6a" stroke-width="0.8"/>
<text x="19.55" y="143" text-anchor="end" class="t">10</text>
<path d="M19.8 80.25H22.0" stroke="#6a6a6a" stroke-width="0.8"/>
<text x="19.55" y="83.15" text-anchor="end" class="t">15</text>
<path d="M87.3 268.8V270.8" stroke="#6a6a6a" stroke-width="0.8"/>
<text x="87.3" y="278.0" text-anchor="middle" class="t">20</text>
<path d="M180.6 268.8V270.8" stroke="#6a6a6a" stroke-width="0.8"/>
<text x="180.6" y="278.0" text-anchor="middle" class="t">30</text>
<path d="M273.9 268.8V270.8" stroke="#6a6a6a" stroke-width="0.8"/>
<text x="273.9" y="278.0" text-anchor="middle" class="t">40</text>
<text x="182.7" y="286.1" text-anchor="middle" class="t">length</text>
<text transform="translate(7.8,166.9) rotate(-90)" text-anchor="middle" class="t">mean %</text>
</g>
<g transform="translate(345.1,1.35)">
<rect x="22.4" y="305.65" width="42.6" height="10.55" fill="#d9d9d9"/>
<text x="41.9" y="313.0" text-anchor="middle" class="t">miRNA</text>
<rect x="25.65" y="407.04" width="1.26" height="0.26" fill="#A6CEE3"/>
<rect x="26.9" y="405.88" width="1.26" height="1.42" fill="#A6CEE3"/>
<rect x="28.16" y="392.39" width="1.26" height="14.91" fill="#A6CEE3"/>
<rect x="29.41" y="407.09" width="1.26" height="0.21" fill="#A6CEE3"/>
<rect x="30.66" y="407.14" width="1.26" height="0.16" fill="#A6CEE3"/>
<rect x="31.91" y="406.77" width="1.26" height="0.53" fill="#A6CEE3"/>
<rect x="33.16" y="406.19" width="1.26" height="1.11" fill="#A6CEE3"/>
<rect x="34.42" y="406.93" width="1.26" height="0.37" fill="#A6CEE3"/>
<rect x="22.4" y="316.2" width="42.6" height="95.1" fill="none" stroke="#666" stroke-width="0.9"/>
<text x="63.4" y="324.0" text-anchor="end" class="t">3.6%</text>
<path d="M31.29 411.3V412.90000000000003" stroke="#6a6a6a" stroke-width="0.7"/>
<text x="31.29" y="420.3" text-anchor="middle" class="t">20</text>
<path d="M43.81 411.3V412.90000000000003" stroke="#6a6a6a" stroke-width="0.7"/>
<text x="43.81" y="420.3" text-anchor="middle" class="t">30</text>
<path d="M56.33 411.3V412.90000000000003" stroke="#6a6a6a" stroke-width="0.7"/>
<text x="56.33" y="420.3" text-anchor="middle" class="t">40</text>
<rect x="68.06" y="305.65" width="42.6" height="10.55" fill="#d9d9d9"/>
<text x="87.46" y="313.0" text-anchor="middle" class="t">piRNA</text>
<rect x="70.06" y="407.14" width="1.26" height="0.16" fill="#1F78B4"/>
<rect x="71.32" y="407.14" width="1.26" height="0.16" fill="#1F78B4"/>
<rect x="72.57" y="407.14" width="1.26" height="0.16" fill="#1F78B4"/>
<rect x="73.82" y="407.14" width="1.26" height="0.16" fill="#1F78B4"/>
<rect x="75.07" y="407.14" width="1.26" height="0.16" fill="#1F78B4"/>
<rect x="76.33" y="407.14" width="1.26" height="0.16" fill="#1F78B4"/>
<rect x="77.58" y="407.14" width="1.26" height="0.16" fill="#1F78B4"/>
<rect x="78.83" y="407.14" width="1.26" height="0.16" fill="#1F78B4"/>
<rect x="80.08" y="407.14" width="1.26" height="0.16" fill="#1F78B4"/>
<rect x="81.33" y="407.14" width="1.26" height="0.16" fill="#1F78B4"/>
<rect x="82.58" y="407.14" width="1.26" height="0.16" fill="#1F78B4"/>
<rect x="83.84" y="407.14" width="1.26" height="0.16" fill="#1F78B4"/>
<rect x="85.09" y="407.14" width="1.26" height="0.16" fill="#1F78B4"/>
<rect x="86.34" y="407.14" width="1.26" height="0.16" fill="#1F78B4"/>
<rect x="87.59" y="407.14" width="1.26" height="0.16" fill="#1F78B4"/>
<rect x="88.84" y="407.14" width="1.26" height="0.16" fill="#1F78B4"/>
<rect x="90.1" y="407.14" width="1.26" height="0.16" fill="#1F78B4"/>
<rect x="91.35" y="407.14" width="1.26" height="0.16" fill="#1F78B4"/>
<rect x="92.6" y="407.14" width="1.26" height="0.16" fill="#1F78B4"/>
<rect x="93.85" y="407.14" width="1.26" height="0.16" fill="#1F78B4"/>
<rect x="95.1" y="407.14" width="1.26" height="0.16" fill="#1F78B4"/>
<rect x="96.36" y="407.14" width="1.26" height="0.16" fill="#1F78B4"/>
<rect x="97.61" y="407.14" width="1.26" height="0.16" fill="#1F78B4"/>
<rect x="98.86" y="407.14" width="1.26" height="0.16" fill="#1F78B4"/>
<rect x="100.11" y="407.14" width="1.26" height="0.16" fill="#1F78B4"/>
<rect x="101.36" y="407.14" width="1.26" height="0.16" fill="#1F78B4"/>
<rect x="102.62" y="407.14" width="1.26" height="0.16" fill="#1F78B4"/>
<rect x="103.87" y="407.14" width="1.26" height="0.16" fill="#1F78B4"/>
<rect x="105.12" y="407.14" width="1.26" height="0.16" fill="#1F78B4"/>
<rect x="106.37" y="407.14" width="1.26" height="0.16" fill="#1F78B4"/>
<rect x="107.62" y="407.14" width="1.26" height="0.16" fill="#1F78B4"/>
<rect x="68.06" y="316.2" width="42.6" height="95.1" fill="none" stroke="#666" stroke-width="0.9"/>
<text x="109.06" y="324.0" text-anchor="end" class="t">0.3%</text>
<path d="M76.95 411.3V412.90000000000003" stroke="#6a6a6a" stroke-width="0.7"/>
<text x="76.95" y="420.3" text-anchor="middle" class="t">20</text>
<path d="M89.47 411.3V412.90000000000003" stroke="#6a6a6a" stroke-width="0.7"/>
<text x="89.47" y="420.3" text-anchor="middle" class="t">30</text>
<path d="M101.99 411.3V412.90000000000003" stroke="#6a6a6a" stroke-width="0.7"/>
<text x="101.99" y="420.3" text-anchor="middle" class="t">40</text>
<rect x="113.73" y="305.65" width="42.6" height="10.55" fill="#d9d9d9"/>
<text x="133.53" y="313.0" text-anchor="middle" class="t">ysRNA</text>
<rect x="115.73" y="407.19" width="1.26" height="0.11" fill="#B2DF8A"/>
<rect x="116.98" y="407.19" width="1.26" height="0.11" fill="#B2DF8A"/>
<rect x="118.23" y="407.19" width="1.26" height="0.11" fill="#B2DF8A"/>
<rect x="119.49" y="407.19" width="1.26" height="0.11" fill="#B2DF8A"/>
<rect x="120.74" y="407.19" width="1.26" height="0.11" fill="#B2DF8A"/>
<rect x="121.99" y="407.19" width="1.26" height="0.11" fill="#B2DF8A"/>
<rect x="123.24" y="407.19" width="1.26" height="0.11" fill="#B2DF8A"/>
<rect x="124.49" y="407.19" width="1.26" height="0.11" fill="#B2DF8A"/>
<rect x="125.75" y="407.19" width="1.26" height="0.11" fill="#B2DF8A"/>
<rect x="127" y="407.19" width="1.26" height="0.11" fill="#B2DF8A"/>
<rect x="128.25" y="407.19" width="1.26" height="0.11" fill="#B2DF8A"/>
<rect x="129.5" y="407.19" width="1.26" height="0.11" fill="#B2DF8A"/>
<rect x="130.75" y="407.19" width="1.26" height="0.11" fill="#B2DF8A"/>
<rect x="132.01" y="407.19" width="1.26" height="0.11" fill="#B2DF8A"/>
<rect x="133.26" y="407.19" width="1.26" height="0.11" fill="#B2DF8A"/>
<rect x="134.51" y="407.19" width="1.26" height="0.11" fill="#B2DF8A"/>
<rect x="135.76" y="407.19" width="1.26" height="0.11" fill="#B2DF8A"/>
<rect x="137.01" y="407.19" width="1.26" height="0.11" fill="#B2DF8A"/>
<rect x="138.27" y="407.19" width="1.26" height="0.11" fill="#B2DF8A"/>
<rect x="139.52" y="407.19" width="1.26" height="0.11" fill="#B2DF8A"/>
<rect x="140.77" y="407.19" width="1.26" height="0.11" fill="#B2DF8A"/>
<rect x="142.02" y="407.19" width="1.26" height="0.11" fill="#B2DF8A"/>
<rect x="143.27" y="407.19" width="1.26" height="0.11" fill="#B2DF8A"/>
<rect x="144.53" y="407.19" width="1.26" height="0.11" fill="#B2DF8A"/>
<rect x="145.78" y="407.19" width="1.26" height="0.11" fill="#B2DF8A"/>
<rect x="147.03" y="407.19" width="1.26" height="0.11" fill="#B2DF8A"/>
<rect x="148.28" y="407.19" width="1.26" height="0.11" fill="#B2DF8A"/>
<rect x="149.53" y="407.19" width="1.26" height="0.11" fill="#B2DF8A"/>
<rect x="150.79" y="407.19" width="1.26" height="0.11" fill="#B2DF8A"/>
<rect x="152.04" y="407.19" width="1.26" height="0.11" fill="#B2DF8A"/>
<rect x="153.29" y="407.19" width="1.26" height="0.11" fill="#B2DF8A"/>
<rect x="113.73" y="316.2" width="42.6" height="95.1" fill="none" stroke="#666" stroke-width="0.9"/>
<text x="154.73" y="324.0" text-anchor="end" class="t">0.1%</text>
<path d="M122.62 411.3V412.90000000000003" stroke="#6a6a6a" stroke-width="0.7"/>
<text x="122.62" y="420.3" text-anchor="middle" class="t">20</text>
<path d="M135.14 411.3V412.90000000000003" stroke="#6a6a6a" stroke-width="0.7"/>
<text x="135.14" y="420.3" text-anchor="middle" class="t">30</text>
<path d="M147.66 411.3V412.90000000000003" stroke="#6a6a6a" stroke-width="0.7"/>
<text x="147.66" y="420.3" text-anchor="middle" class="t">40</text>
<rect x="159.4" y="305.65" width="42.6" height="10.55" fill="#d9d9d9"/>
<text x="178.7" y="313.0" text-anchor="middle" class="t">tsRNA</text>
<rect x="161.4" y="405.51" width="1.26" height="1.79" fill="#33A02C"/>
<rect x="162.65" y="405.19" width="1.26" height="2.11" fill="#33A02C"/>
<rect x="163.9" y="405.56" width="1.26" height="1.74" fill="#33A02C"/>
<rect x="165.15" y="405.03" width="1.26" height="2.27" fill="#33A02C"/>
<rect x="166.4" y="405.14" width="1.26" height="2.16" fill="#33A02C"/>
<rect x="167.66" y="406.14" width="1.26" height="1.16" fill="#33A02C"/>
<rect x="168.91" y="406.3" width="1.26" height="1" fill="#33A02C"/>
<rect x="170.16" y="406.51" width="1.26" height="0.79" fill="#33A02C"/>
<rect x="171.41" y="406.72" width="1.26" height="0.58" fill="#33A02C"/>
<rect x="172.66" y="406.61" width="1.26" height="0.69" fill="#33A02C"/>
<rect x="173.92" y="406.77" width="1.26" height="0.53" fill="#33A02C"/>
<rect x="175.17" y="406.77" width="1.26" height="0.53" fill="#33A02C"/>
<rect x="176.42" y="406.56" width="1.26" height="0.74" fill="#33A02C"/>
<rect x="177.67" y="406.51" width="1.26" height="0.79" fill="#33A02C"/>
<rect x="178.92" y="406.4" width="1.26" height="0.9" fill="#33A02C"/>
<rect x="180.18" y="405.67" width="1.26" height="1.63" fill="#33A02C"/>
<rect x="181.43" y="406.4" width="1.26" height="0.9" fill="#33A02C"/>
<rect x="182.68" y="404.35" width="1.26" height="2.95" fill="#33A02C"/>
<rect x="183.93" y="404.93" width="1.26" height="2.37" fill="#33A02C"/>
<rect x="185.18" y="404.56" width="1.26" height="2.74" fill="#33A02C"/>
<rect x="186.44" y="405.77" width="1.26" height="1.53" fill="#33A02C"/>
<rect x="187.69" y="406.14" width="1.26" height="1.16" fill="#33A02C"/>
<rect x="188.94" y="406.04" width="1.26" height="1.26" fill="#33A02C"/>
<rect x="190.19" y="406.61" width="1.26" height="0.69" fill="#33A02C"/>
<rect x="191.44" y="406.61" width="1.26" height="0.69" fill="#33A02C"/>
<rect x="192.7" y="406.61" width="1.26" height="0.69" fill="#33A02C"/>
<rect x="193.95" y="406.72" width="1.26" height="0.58" fill="#33A02C"/>
<rect x="195.2" y="406.93" width="1.26" height="0.37" fill="#33A02C"/>
<rect x="196.45" y="407.09" width="1.26" height="0.21" fill="#33A02C"/>
<rect x="159.4" y="316.2" width="42.6" height="95.1" fill="none" stroke="#666" stroke-width="0.9"/>
<text x="200.4" y="324.0" text-anchor="end" class="t">6.4%</text>
<path d="M168.28 411.3V412.90000000000003" stroke="#6a6a6a" stroke-width="0.7"/>
<text x="168.28" y="420.3" text-anchor="middle" class="t">20</text>
<path d="M180.81 411.3V412.90000000000003" stroke="#6a6a6a" stroke-width="0.7"/>
<text x="180.81" y="420.3" text-anchor="middle" class="t">30</text>
<path d="M193.33 411.3V412.90000000000003" stroke="#6a6a6a" stroke-width="0.7"/>
<text x="193.33" y="420.3" text-anchor="middle" class="t">40</text>
<rect x="205.06" y="305.65" width="42.6" height="10.55" fill="#d9d9d9"/>
<text x="224.46" y="313.0" text-anchor="middle" class="t">rsRNA</text>
<rect x="207.06" y="391.54" width="1.26" height="15.76" fill="#F08F8F"/>
<rect x="208.31" y="392.7" width="1.26" height="14.6" fill="#F08F8F"/>
<rect x="209.56" y="389.49" width="1.26" height="17.81" fill="#F08F8F"/>
<rect x="210.82" y="394.18" width="1.26" height="13.12" fill="#F08F8F"/>
<rect x="212.07" y="394.55" width="1.26" height="12.75" fill="#F08F8F"/>
<rect x="213.32" y="393.33" width="1.26" height="13.97" fill="#F08F8F"/>
<rect x="214.57" y="395.44" width="1.26" height="11.86" fill="#F08F8F"/>
<rect x="215.82" y="394.65" width="1.26" height="12.65" fill="#F08F8F"/>
<rect x="217.08" y="365.88" width="1.26" height="41.42" fill="#F08F8F"/>
<rect x="218.33" y="392.86" width="1.26" height="14.44" fill="#F08F8F"/>
<rect x="219.58" y="395.18" width="1.26" height="12.12" fill="#F08F8F"/>
<rect x="220.83" y="394.44" width="1.26" height="12.86" fill="#F08F8F"/>
<rect x="222.08" y="396.34" width="1.26" height="10.96" fill="#F08F8F"/>
<rect x="223.34" y="395.44" width="1.26" height="11.86" fill="#F08F8F"/>
<rect x="224.59" y="388.28" width="1.26" height="19.02" fill="#F08F8F"/>
<rect x="225.84" y="391.17" width="1.26" height="16.13" fill="#F08F8F"/>
<rect x="227.09" y="378.31" width="1.26" height="28.98" fill="#F08F8F"/>
<rect x="228.34" y="393.65" width="1.26" height="13.65" fill="#F08F8F"/>
<rect x="229.6" y="395.6" width="1.26" height="11.7" fill="#F08F8F"/>
<rect x="230.85" y="398.34" width="1.26" height="8.96" fill="#F08F8F"/>
<rect x="232.1" y="395.07" width="1.26" height="12.23" fill="#F08F8F"/>
<rect x="233.35" y="400.5" width="1.26" height="6.8" fill="#F08F8F"/>
<rect x="234.6" y="399.71" width="1.26" height="7.59" fill="#F08F8F"/>
<rect x="235.86" y="399.13" width="1.26" height="8.17" fill="#F08F8F"/>
<rect x="237.11" y="398.13" width="1.26" height="9.17" fill="#F08F8F"/>
<rect x="238.36" y="396.6" width="1.26" height="10.7" fill="#F08F8F"/>
<rect x="239.61" y="395.71" width="1.26" height="11.59" fill="#F08F8F"/>
<rect x="240.86" y="396.6" width="1.26" height="10.7" fill="#F08F8F"/>
<rect x="242.12" y="391.23" width="1.26" height="16.07" fill="#F08F8F"/>
<rect x="243.37" y="401.34" width="1.26" height="5.96" fill="#F08F8F"/>
<rect x="244.62" y="400.77" width="1.26" height="6.53" fill="#F08F8F"/>
<rect x="205.06" y="316.2" width="42.6" height="95.1" fill="none" stroke="#666" stroke-width="0.9"/>
<text x="246.06" y="324.0" text-anchor="end" class="t">79.4%</text>
<path d="M213.95 411.3V412.90000000000003" stroke="#6a6a6a" stroke-width="0.7"/>
<text x="213.95" y="420.3" text-anchor="middle" class="t">20</text>
<path d="M226.47 411.3V412.90000000000003" stroke="#6a6a6a" stroke-width="0.7"/>
<text x="226.47" y="420.3" text-anchor="middle" class="t">30</text>
<path d="M238.99 411.3V412.90000000000003" stroke="#6a6a6a" stroke-width="0.7"/>
<text x="238.99" y="420.3" text-anchor="middle" class="t">40</text>
<rect x="205.06" y="305.65" width="42.6" height="10.55" fill="none" stroke="#C83232" stroke-width="1"/>
<rect x="250.72" y="305.65" width="42.6" height="10.55" fill="#d9d9d9"/>
<text x="272.32" y="313.0" text-anchor="middle" class="t">antisense</text>
<rect x="252.72" y="406.93" width="1.26" height="0.37" fill="#E31A1C"/>
<rect x="253.98" y="406.93" width="1.26" height="0.37" fill="#E31A1C"/>
<rect x="255.23" y="407.14" width="1.26" height="0.16" fill="#E31A1C"/>
<rect x="256.48" y="407.14" width="1.26" height="0.16" fill="#E31A1C"/>
<rect x="257.73" y="407.14" width="1.26" height="0.16" fill="#E31A1C"/>
<rect x="258.99" y="407.14" width="1.26" height="0.16" fill="#E31A1C"/>
<rect x="260.24" y="407.14" width="1.26" height="0.16" fill="#E31A1C"/>
<rect x="261.49" y="407.14" width="1.26" height="0.16" fill="#E31A1C"/>
<rect x="262.74" y="407.14" width="1.26" height="0.16" fill="#E31A1C"/>
<rect x="263.99" y="407.14" width="1.26" height="0.16" fill="#E31A1C"/>
<rect x="265.25" y="407.14" width="1.26" height="0.16" fill="#E31A1C"/>
<rect x="266.5" y="407.14" width="1.26" height="0.16" fill="#E31A1C"/>
<rect x="267.75" y="407.14" width="1.26" height="0.16" fill="#E31A1C"/>
<rect x="269" y="407.14" width="1.26" height="0.16" fill="#E31A1C"/>
<rect x="270.25" y="407.14" width="1.26" height="0.16" fill="#E31A1C"/>
<rect x="271.5" y="407.14" width="1.26" height="0.16" fill="#E31A1C"/>
<rect x="272.76" y="407.14" width="1.26" height="0.16" fill="#E31A1C"/>
<rect x="274.01" y="407.14" width="1.26" height="0.16" fill="#E31A1C"/>
<rect x="275.26" y="407.14" width="1.26" height="0.16" fill="#E31A1C"/>
<rect x="276.51" y="407.14" width="1.26" height="0.16" fill="#E31A1C"/>
<rect x="277.76" y="407.14" width="1.26" height="0.16" fill="#E31A1C"/>
<rect x="279.02" y="407.14" width="1.26" height="0.16" fill="#E31A1C"/>
<rect x="280.27" y="407.14" width="1.26" height="0.16" fill="#E31A1C"/>
<rect x="281.52" y="407.14" width="1.26" height="0.16" fill="#E31A1C"/>
<rect x="282.77" y="407.14" width="1.26" height="0.16" fill="#E31A1C"/>
<rect x="284.02" y="407.14" width="1.26" height="0.16" fill="#E31A1C"/>
<rect x="285.28" y="407.14" width="1.26" height="0.16" fill="#E31A1C"/>
<rect x="286.53" y="407.14" width="1.26" height="0.16" fill="#E31A1C"/>
<rect x="287.78" y="407.14" width="1.26" height="0.16" fill="#E31A1C"/>
<rect x="289.03" y="407.14" width="1.26" height="0.16" fill="#E31A1C"/>
<rect x="290.28" y="407.14" width="1.26" height="0.16" fill="#E31A1C"/>
<rect x="250.72" y="316.2" width="42.6" height="95.1" fill="none" stroke="#666" stroke-width="0.9"/>
<text x="291.72" y="324.0" text-anchor="end" class="t">0.1%</text>
<path d="M259.62 411.3V412.90000000000003" stroke="#6a6a6a" stroke-width="0.7"/>
<text x="259.62" y="420.3" text-anchor="middle" class="t">20</text>
<path d="M272.13 411.3V412.90000000000003" stroke="#6a6a6a" stroke-width="0.7"/>
<text x="272.13" y="420.3" text-anchor="middle" class="t">30</text>
<path d="M284.65 411.3V412.90000000000003" stroke="#6a6a6a" stroke-width="0.7"/>
<text x="284.65" y="420.3" text-anchor="middle" class="t">40</text>
<rect x="296.39" y="305.65" width="42.6" height="10.55" fill="#d9d9d9"/>
<text x="314.89" y="313.0" text-anchor="middle" class="t">other</text>
<rect x="298.39" y="405.24" width="1.26" height="2.06" fill="#F5B764"/>
<rect x="299.64" y="405.24" width="1.26" height="2.06" fill="#F5B764"/>
<rect x="300.89" y="404.67" width="1.26" height="2.63" fill="#F5B764"/>
<rect x="302.15" y="400.87" width="1.26" height="6.43" fill="#F5B764"/>
<rect x="303.4" y="401.45" width="1.26" height="5.85" fill="#F5B764"/>
<rect x="304.65" y="404.4" width="1.26" height="2.9" fill="#F5B764"/>
<rect x="305.9" y="405.77" width="1.26" height="1.53" fill="#F5B764"/>
<rect x="307.15" y="404.82" width="1.26" height="2.48" fill="#F5B764"/>
<rect x="308.41" y="405.93" width="1.26" height="1.37" fill="#F5B764"/>
<rect x="309.66" y="406.35" width="1.26" height="0.95" fill="#F5B764"/>
<rect x="310.91" y="405.56" width="1.26" height="1.74" fill="#F5B764"/>
<rect x="312.16" y="405.77" width="1.26" height="1.53" fill="#F5B764"/>
<rect x="313.41" y="405.24" width="1.26" height="2.06" fill="#F5B764"/>
<rect x="314.67" y="405.77" width="1.26" height="1.53" fill="#F5B764"/>
<rect x="315.92" y="404.51" width="1.26" height="2.79" fill="#F5B764"/>
<rect x="317.17" y="403.87" width="1.26" height="3.43" fill="#F5B764"/>
<rect x="318.42" y="405.77" width="1.26" height="1.53" fill="#F5B764"/>
<rect x="319.67" y="406.56" width="1.26" height="0.74" fill="#F5B764"/>
<rect x="320.93" y="406.3" width="1.26" height="1" fill="#F5B764"/>
<rect x="322.18" y="406.56" width="1.26" height="0.74" fill="#F5B764"/>
<rect x="323.43" y="406.67" width="1.26" height="0.63" fill="#F5B764"/>
<rect x="324.68" y="406.77" width="1.26" height="0.53" fill="#F5B764"/>
<rect x="325.93" y="406.77" width="1.26" height="0.53" fill="#F5B764"/>
<rect x="327.19" y="406.77" width="1.26" height="0.53" fill="#F5B764"/>
<rect x="328.44" y="406.25" width="1.26" height="1.05" fill="#F5B764"/>
<rect x="329.69" y="406.77" width="1.26" height="0.53" fill="#F5B764"/>
<rect x="330.94" y="406.77" width="1.26" height="0.53" fill="#F5B764"/>
<rect x="332.19" y="406.77" width="1.26" height="0.53" fill="#F5B764"/>
<rect x="333.45" y="406.88" width="1.26" height="0.42" fill="#F5B764"/>
<rect x="334.7" y="407.04" width="1.26" height="0.26" fill="#F5B764"/>
<rect x="335.95" y="407.04" width="1.26" height="0.26" fill="#F5B764"/>
<rect x="296.39" y="316.2" width="42.6" height="95.1" fill="none" stroke="#666" stroke-width="0.9"/>
<text x="337.39" y="324.0" text-anchor="end" class="t">10.0%</text>
<path d="M305.28 411.3V412.90000000000003" stroke="#6a6a6a" stroke-width="0.7"/>
<text x="305.28" y="420.3" text-anchor="middle" class="t">20</text>
<path d="M317.8 411.3V412.90000000000003" stroke="#6a6a6a" stroke-width="0.7"/>
<text x="317.8" y="420.3" text-anchor="middle" class="t">30</text>
<path d="M330.32 411.3V412.90000000000003" stroke="#6a6a6a" stroke-width="0.7"/>
<text x="330.32" y="420.3" text-anchor="middle" class="t">40</text>
<path d="M20.799999999999997 407.3H22.4" stroke="#6a6a6a" stroke-width="0.8"/>
<text x="19.75" y="410.4" text-anchor="end" class="t">0</text>
<path d="M20.799999999999997 380.95H22.4" stroke="#6a6a6a" stroke-width="0.8"/>
<text x="19.75" y="384.05" text-anchor="end" class="t">5</text>
<path d="M20.799999999999997 354.6H22.4" stroke="#6a6a6a" stroke-width="0.8"/>
<text x="20.6" y="357.7" text-anchor="end" class="t">10</text>
<path d="M20.799999999999997 328.25H22.4" stroke="#6a6a6a" stroke-width="0.8"/>
<text x="20.6" y="331.35" text-anchor="end" class="t">15</text>
<text x="182.8" y="427.2" text-anchor="middle" class="t">length</text>
<text transform="translate(8.2,360.5) rotate(-90)" text-anchor="middle" class="t">mean %</text>
</g>
<text x="62.9" y="478.3" textLength="227.8" lengthAdjust="spacing" class="t">C. High-quality embryos medium Pandora sequencing</text>
<rect x="109" y="493.2" width="8.4" height="8.4" fill="#A5C8DC"/>
<text x="122" y="500" class="t">miRNA</text>
<rect x="157.8" y="493.2" width="8.4" height="8.4" fill="#236EAA"/>
<text x="170.8" y="500" class="t">piRNA</text>
<rect x="203.7" y="493.2" width="8.4" height="8.4" fill="#AAD287"/>
<text x="216.7" y="500" class="t">ysRNA</text>
<rect x="109" y="506.35" width="8.4" height="8.4" fill="#339B32"/>
<text x="122" y="513.15" class="t">tsRNA</text>
<rect x="157.8" y="506.35" width="8.4" height="8.4" fill="#EB9696"/>
<text x="170.8" y="513.15" class="t">rsRNA</text>
<rect x="203.7" y="506.35" width="8.4" height="8.4" fill="#D61E1E"/>
<text x="216.7" y="513.15" class="t">antisense</text>
<rect x="109" y="519.5" width="8.4" height="8.4" fill="#F0B86C"/>
<text x="122" y="526.3" class="t">other</text>
<g transform="translate(3.65,470.55)">
<rect x="36.4" y="230.95" width="8.5" height="28.85" fill="#F0B86C"/>
<rect x="36.4" y="229.52" width="8.5" height="1.44" fill="#D61E1E"/>
<rect x="36.4" y="197.8" width="8.5" height="31.72" fill="#EC9494"/>
<rect x="36.4" y="191.93" width="8.5" height="5.87" fill="#339B32"/>
<rect x="45.73" y="241.25" width="8.5" height="18.55" fill="#F0B86C"/>
<rect x="45.73" y="209.53" width="8.5" height="31.72" fill="#EC9494"/>
<rect x="45.73" y="204.86" width="8.5" height="4.67" fill="#339B32"/>
<rect x="55.06" y="240.89" width="8.5" height="18.91" fill="#F0B86C"/>
<rect x="55.06" y="206.53" width="8.5" height="34.35" fill="#EC9494"/>
<rect x="55.06" y="203.42" width="8.5" height="3.11" fill="#339B32"/>
<rect x="55.06" y="200.55" width="8.5" height="2.87" fill="#A5C8DC"/>
<rect x="64.39" y="239.57" width="8.5" height="20.23" fill="#F0B86C"/>
<rect x="64.39" y="211.56" width="8.5" height="28.01" fill="#EC9494"/>
<rect x="64.39" y="206.89" width="8.5" height="4.67" fill="#339B32"/>
<rect x="64.39" y="172.78" width="8.5" height="34.11" fill="#A5C8DC"/>
<rect x="73.72" y="237.78" width="8.5" height="22.02" fill="#F0B86C"/>
<rect x="73.72" y="212.4" width="8.5" height="25.38" fill="#EC9494"/>
<rect x="73.72" y="207.73" width="8.5" height="4.67" fill="#339B32"/>
<rect x="83.05" y="236.94" width="8.5" height="22.86" fill="#F0B86C"/>
<rect x="83.05" y="209.53" width="8.5" height="27.41" fill="#EC9494"/>
<rect x="83.05" y="206.53" width="8.5" height="2.99" fill="#339B32"/>
<rect x="92.38" y="251.06" width="8.5" height="8.74" fill="#F0B86C"/>
<rect x="92.38" y="227.48" width="8.5" height="23.58" fill="#EC9494"/>
<rect x="92.38" y="225.45" width="8.5" height="2.03" fill="#339B32"/>
<rect x="92.38" y="224.13" width="8.5" height="1.32" fill="#A5C8DC"/>
<rect x="101.71" y="251.54" width="8.5" height="8.26" fill="#F0B86C"/>
<rect x="101.71" y="225.33" width="8.5" height="26.21" fill="#EC9494"/>
<rect x="101.71" y="223.53" width="8.5" height="1.8" fill="#339B32"/>
<rect x="101.71" y="220.66" width="8.5" height="2.87" fill="#A5C8DC"/>
<rect x="111.04" y="254.17" width="8.5" height="5.63" fill="#F0B86C"/>
<rect x="111.04" y="115.92" width="8.5" height="138.25" fill="#EC9494"/>
<rect x="111.04" y="114.72" width="8.5" height="1.2" fill="#339B32"/>
<rect x="111.04" y="113.77" width="8.5" height="0.96" fill="#A5C8DC"/>
<rect x="120.37" y="254.65" width="8.5" height="5.15" fill="#F0B86C"/>
<rect x="120.37" y="224.61" width="8.5" height="30.04" fill="#EC9494"/>
<rect x="120.37" y="223.17" width="8.5" height="1.44" fill="#339B32"/>
<rect x="120.37" y="222.69" width="8.5" height="0.48" fill="#A5C8DC"/>
<rect x="129.7" y="252.38" width="8.5" height="7.42" fill="#F0B86C"/>
<rect x="129.7" y="228.32" width="8.5" height="24.06" fill="#EC9494"/>
<rect x="129.7" y="227.48" width="8.5" height="0.84" fill="#339B32"/>
<rect x="139.03" y="254.17" width="8.5" height="5.63" fill="#F0B86C"/>
<rect x="139.03" y="228.08" width="8.5" height="26.09" fill="#EC9494"/>
<rect x="139.03" y="227" width="8.5" height="1.08" fill="#339B32"/>
<rect x="148.36" y="252.38" width="8.5" height="7.42" fill="#F0B86C"/>
<rect x="148.36" y="232.27" width="8.5" height="20.11" fill="#EC9494"/>
<rect x="148.36" y="230.95" width="8.5" height="1.32" fill="#339B32"/>
<rect x="157.69" y="254.17" width="8.5" height="5.63" fill="#F0B86C"/>
<rect x="157.69" y="232.27" width="8.5" height="21.91" fill="#EC9494"/>
<rect x="157.69" y="230.95" width="8.5" height="1.32" fill="#339B32"/>
<rect x="167.02" y="249.51" width="8.5" height="10.29" fill="#F0B86C"/>
<rect x="167.02" y="211.56" width="8.5" height="37.94" fill="#EC9494"/>
<rect x="167.02" y="210.48" width="8.5" height="1.08" fill="#339B32"/>
<rect x="176.35" y="248.07" width="8.5" height="11.73" fill="#F0B86C"/>
<rect x="176.35" y="205.58" width="8.5" height="42.49" fill="#EC9494"/>
<rect x="176.35" y="202.58" width="8.5" height="2.99" fill="#339B32"/>
<rect x="185.68" y="254.17" width="8.5" height="5.63" fill="#F0B86C"/>
<rect x="185.68" y="193.73" width="8.5" height="60.45" fill="#EC9494"/>
<rect x="185.68" y="192.53" width="8.5" height="1.2" fill="#339B32"/>
<rect x="195.01" y="256.33" width="8.5" height="3.47" fill="#F0B86C"/>
<rect x="195.01" y="214.67" width="8.5" height="41.66" fill="#EC9494"/>
<rect x="195.01" y="211.2" width="8.5" height="3.47" fill="#339B32"/>
<rect x="204.34" y="257.53" width="8.5" height="2.27" fill="#F0B86C"/>
<rect x="204.34" y="238.97" width="8.5" height="18.55" fill="#EC9494"/>
<rect x="204.34" y="236.1" width="8.5" height="2.87" fill="#339B32"/>
<rect x="213.67" y="257.88" width="8.5" height="1.92" fill="#F0B86C"/>
<rect x="213.67" y="242.08" width="8.5" height="15.8" fill="#EC9494"/>
<rect x="213.67" y="237.78" width="8.5" height="4.31" fill="#339B32"/>
<rect x="223" y="258.24" width="8.5" height="1.56" fill="#F0B86C"/>
<rect x="223" y="240.77" width="8.5" height="17.48" fill="#EC9494"/>
<rect x="223" y="238.73" width="8.5" height="2.03" fill="#339B32"/>
<rect x="232.33" y="258.6" width="8.5" height="1.2" fill="#F0B86C"/>
<rect x="232.33" y="246.75" width="8.5" height="11.85" fill="#EC9494"/>
<rect x="232.33" y="245.2" width="8.5" height="1.56" fill="#339B32"/>
<rect x="241.66" y="258.6" width="8.5" height="1.2" fill="#F0B86C"/>
<rect x="241.66" y="246.75" width="8.5" height="11.85" fill="#EC9494"/>
<rect x="241.66" y="243.88" width="8.5" height="2.87" fill="#339B32"/>
<rect x="250.99" y="258.6" width="8.5" height="1.2" fill="#F0B86C"/>
<rect x="250.99" y="246.75" width="8.5" height="11.85" fill="#EC9494"/>
<rect x="250.99" y="245.56" width="8.5" height="1.2" fill="#339B32"/>
<rect x="260.32" y="257.53" width="8.5" height="2.27" fill="#F0B86C"/>
<rect x="260.32" y="245.44" width="8.5" height="12.09" fill="#EC9494"/>
<rect x="260.32" y="244.36" width="8.5" height="1.08" fill="#339B32"/>
<rect x="269.65" y="258.6" width="8.5" height="1.2" fill="#F0B86C"/>
<rect x="269.65" y="244.72" width="8.5" height="13.89" fill="#EC9494"/>
<rect x="269.65" y="243.64" width="8.5" height="1.08" fill="#339B32"/>
<rect x="278.98" y="258.6" width="8.5" height="1.2" fill="#F0B86C"/>
<rect x="278.98" y="244.12" width="8.5" height="14.48" fill="#EC9494"/>
<rect x="278.98" y="242.8" width="8.5" height="1.32" fill="#339B32"/>
<rect x="288.31" y="258.6" width="8.5" height="1.2" fill="#F0B86C"/>
<rect x="288.31" y="245.44" width="8.5" height="13.17" fill="#EC9494"/>
<rect x="288.31" y="244.72" width="8.5" height="0.72" fill="#339B32"/>
<rect x="297.64" y="258.84" width="8.5" height="0.96" fill="#F0B86C"/>
<rect x="297.64" y="239.45" width="8.5" height="19.39" fill="#EC9494"/>
<rect x="297.64" y="239.21" width="8.5" height="0.24" fill="#339B32"/>
<rect x="306.97" y="259.2" width="8.5" height="0.6" fill="#F0B86C"/>
<rect x="306.97" y="250.58" width="8.5" height="8.62" fill="#EC9494"/>
<rect x="316.3" y="259.2" width="8.5" height="0.6" fill="#F0B86C"/>
<rect x="316.3" y="249.39" width="8.5" height="9.82" fill="#EC9494"/>
<path d="M22.0 71.1V268.8H339.3" fill="none" stroke="#6a6a6a" stroke-width="1.1"/>
<path d="M19.8 259.8H22.0" stroke="#6a6a6a" stroke-width="0.8"/>
<text x="19.25" y="262.7" text-anchor="end" class="t">0</text>
<path d="M19.8 199.95H22.0" stroke="#6a6a6a" stroke-width="0.8"/>
<text x="19.25" y="202.85" text-anchor="end" class="t">5</text>
<path d="M19.8 140.1H22.0" stroke="#6a6a6a" stroke-width="0.8"/>
<text x="19.55" y="143" text-anchor="end" class="t">10</text>
<path d="M19.8 80.25H22.0" stroke="#6a6a6a" stroke-width="0.8"/>
<text x="19.55" y="83.15" text-anchor="end" class="t">15</text>
<path d="M87.3 268.8V270.8" stroke="#6a6a6a" stroke-width="0.8"/>
<text x="87.3" y="278.0" text-anchor="middle" class="t">20</text>
<path d="M180.6 268.8V270.8" stroke="#6a6a6a" stroke-width="0.8"/>
<text x="180.6" y="278.0" text-anchor="middle" class="t">30</text>
<path d="M273.9 268.8V270.8" stroke="#6a6a6a" stroke-width="0.8"/>
<text x="273.9" y="278.0" text-anchor="middle" class="t">40</text>
<text x="182.7" y="286.1" text-anchor="middle" class="t">length</text>
<text transform="translate(7.8,166.9) rotate(-90)" text-anchor="middle" class="t">mean %</text>
</g>
<g transform="translate(3.15,470.3)">
<rect x="22.4" y="305.65" width="42.6" height="10.55" fill="#d9d9d9"/>
<text x="41.9" y="313.0" text-anchor="middle" class="t">miRNA</text>
<rect x="26.9" y="406.04" width="1.26" height="1.26" fill="#A6CEE3"/>
<rect x="28.16" y="392.28" width="1.26" height="15.02" fill="#A6CEE3"/>
<rect x="31.91" y="406.72" width="1.26" height="0.58" fill="#A6CEE3"/>
<rect x="33.16" y="406.04" width="1.26" height="1.26" fill="#A6CEE3"/>
<rect x="34.42" y="406.88" width="1.26" height="0.42" fill="#A6CEE3"/>
<rect x="35.67" y="407.09" width="1.26" height="0.21" fill="#A6CEE3"/>
<rect x="22.4" y="316.2" width="42.6" height="95.1" fill="none" stroke="#666" stroke-width="0.9"/>
<text x="63.4" y="324.0" text-anchor="end" class="t">3.7%</text>
<path d="M31.29 411.3V412.90000000000003" stroke="#6a6a6a" stroke-width="0.7"/>
<text x="31.29" y="420.3" text-anchor="middle" class="t">20</text>
<path d="M43.81 411.3V412.90000000000003" stroke="#6a6a6a" stroke-width="0.7"/>
<text x="43.81" y="420.3" text-anchor="middle" class="t">30</text>
<path d="M56.33 411.3V412.90000000000003" stroke="#6a6a6a" stroke-width="0.7"/>
<text x="56.33" y="420.3" text-anchor="middle" class="t">40</text>
<rect x="68.06" y="305.65" width="42.6" height="10.55" fill="#d9d9d9"/>
<text x="87.46" y="313.0" text-anchor="middle" class="t">piRNA</text>
<rect x="70.06" y="407.14" width="1.26" height="0.16" fill="#1F78B4"/>
<rect x="71.32" y="407.14" width="1.26" height="0.16" fill="#1F78B4"/>
<rect x="72.57" y="407.14" width="1.26" height="0.16" fill="#1F78B4"/>
<rect x="73.82" y="407.14" width="1.26" height="0.16" fill="#1F78B4"/>
<rect x="75.07" y="407.14" width="1.26" height="0.16" fill="#1F78B4"/>
<rect x="76.33" y="407.14" width="1.26" height="0.16" fill="#1F78B4"/>
<rect x="77.58" y="407.14" width="1.26" height="0.16" fill="#1F78B4"/>
<rect x="78.83" y="407.14" width="1.26" height="0.16" fill="#1F78B4"/>
<rect x="80.08" y="407.14" width="1.26" height="0.16" fill="#1F78B4"/>
<rect x="81.33" y="407.14" width="1.26" height="0.16" fill="#1F78B4"/>
<rect x="82.58" y="407.14" width="1.26" height="0.16" fill="#1F78B4"/>
<rect x="83.84" y="407.14" width="1.26" height="0.16" fill="#1F78B4"/>
<rect x="85.09" y="407.14" width="1.26" height="0.16" fill="#1F78B4"/>
<rect x="86.34" y="407.14" width="1.26" height="0.16" fill="#1F78B4"/>
<rect x="87.59" y="407.14" width="1.26" height="0.16" fill="#1F78B4"/>
<rect x="88.84" y="407.14" width="1.26" height="0.16" fill="#1F78B4"/>
<rect x="90.1" y="407.14" width="1.26" height="0.16" fill="#1F78B4"/>
<rect x="91.35" y="407.14" width="1.26" height="0.16" fill="#1F78B4"/>
<rect x="92.6" y="407.14" width="1.26" height="0.16" fill="#1F78B4"/>
<rect x="93.85" y="407.14" width="1.26" height="0.16" fill="#1F78B4"/>
<rect x="95.1" y="407.14" width="1.26" height="0.16" fill="#1F78B4"/>
<rect x="96.36" y="407.14" width="1.26" height="0.16" fill="#1F78B4"/>
<rect x="97.61" y="407.14" width="1.26" height="0.16" fill="#1F78B4"/>
<rect x="98.86" y="407.14" width="1.26" height="0.16" fill="#1F78B4"/>
<rect x="100.11" y="407.14" width="1.26" height="0.16" fill="#1F78B4"/>
<rect x="101.36" y="407.14" width="1.26" height="0.16" fill="#1F78B4"/>
<rect x="102.62" y="407.14" width="1.26" height="0.16" fill="#1F78B4"/>
<rect x="103.87" y="407.14" width="1.26" height="0.16" fill="#1F78B4"/>
<rect x="105.12" y="407.14" width="1.26" height="0.16" fill="#1F78B4"/>
<rect x="106.37" y="407.14" width="1.26" height="0.16" fill="#1F78B4"/>
<rect x="107.62" y="407.14" width="1.26" height="0.16" fill="#1F78B4"/>
<rect x="68.06" y="316.2" width="42.6" height="95.1" fill="none" stroke="#666" stroke-width="0.9"/>
<text x="109.06" y="324.0" text-anchor="end" class="t">0.3%</text>
<path d="M76.95 411.3V412.90000000000003" stroke="#6a6a6a" stroke-width="0.7"/>
<text x="76.95" y="420.3" text-anchor="middle" class="t">20</text>
<path d="M89.47 411.3V412.90000000000003" stroke="#6a6a6a" stroke-width="0.7"/>
<text x="89.47" y="420.3" text-anchor="middle" class="t">30</text>
<path d="M101.99 411.3V412.90000000000003" stroke="#6a6a6a" stroke-width="0.7"/>
<text x="101.99" y="420.3" text-anchor="middle" class="t">40</text>
<rect x="113.73" y="305.65" width="42.6" height="10.55" fill="#d9d9d9"/>
<text x="133.53" y="313.0" text-anchor="middle" class="t">ysRNA</text>
<rect x="115.73" y="407.19" width="1.26" height="0.11" fill="#B2DF8A"/>
<rect x="116.98" y="407.19" width="1.26" height="0.11" fill="#B2DF8A"/>
<rect x="118.23" y="407.19" width="1.26" height="0.11" fill="#B2DF8A"/>
<rect x="119.49" y="407.19" width="1.26" height="0.11" fill="#B2DF8A"/>
<rect x="120.74" y="407.19" width="1.26" height="0.11" fill="#B2DF8A"/>
<rect x="121.99" y="407.19" width="1.26" height="0.11" fill="#B2DF8A"/>
<rect x="123.24" y="407.19" width="1.26" height="0.11" fill="#B2DF8A"/>
<rect x="124.49" y="407.19" width="1.26" height="0.11" fill="#B2DF8A"/>
<rect x="125.75" y="407.19" width="1.26" height="0.11" fill="#B2DF8A"/>
<rect x="127" y="407.19" width="1.26" height="0.11" fill="#B2DF8A"/>
<rect x="128.25" y="407.19" width="1.26" height="0.11" fill="#B2DF8A"/>
<rect x="129.5" y="407.19" width="1.26" height="0.11" fill="#B2DF8A"/>
<rect x="130.75" y="407.19" width="1.26" height="0.11" fill="#B2DF8A"/>
<rect x="132.01" y="407.19" width="1.26" height="0.11" fill="#B2DF8A"/>
<rect x="133.26" y="407.19" width="1.26" height="0.11" fill="#B2DF8A"/>
<rect x="134.51" y="407.19" width="1.26" height="0.11" fill="#B2DF8A"/>
<rect x="135.76" y="407.19" width="1.26" height="0.11" fill="#B2DF8A"/>
<rect x="137.01" y="407.19" width="1.26" height="0.11" fill="#B2DF8A"/>
<rect x="138.27" y="407.19" width="1.26" height="0.11" fill="#B2DF8A"/>
<rect x="139.52" y="407.19" width="1.26" height="0.11" fill="#B2DF8A"/>
<rect x="140.77" y="407.19" width="1.26" height="0.11" fill="#B2DF8A"/>
<rect x="142.02" y="407.19" width="1.26" height="0.11" fill="#B2DF8A"/>
<rect x="143.27" y="407.19" width="1.26" height="0.11" fill="#B2DF8A"/>
<rect x="144.53" y="407.19" width="1.26" height="0.11" fill="#B2DF8A"/>
<rect x="145.78" y="407.19" width="1.26" height="0.11" fill="#B2DF8A"/>
<rect x="147.03" y="407.19" width="1.26" height="0.11" fill="#B2DF8A"/>
<rect x="148.28" y="407.19" width="1.26" height="0.11" fill="#B2DF8A"/>
<rect x="149.53" y="407.19" width="1.26" height="0.11" fill="#B2DF8A"/>
<rect x="150.79" y="407.19" width="1.26" height="0.11" fill="#B2DF8A"/>
<rect x="152.04" y="407.19" width="1.26" height="0.11" fill="#B2DF8A"/>
<rect x="153.29" y="407.19" width="1.26" height="0.11" fill="#B2DF8A"/>
<rect x="113.73" y="316.2" width="42.6" height="95.1" fill="none" stroke="#666" stroke-width="0.9"/>
<text x="154.73" y="324.0" text-anchor="end" class="t">0.0%</text>
<path d="M122.62 411.3V412.90000000000003" stroke="#6a6a6a" stroke-width="0.7"/>
<text x="122.62" y="420.3" text-anchor="middle" class="t">20</text>
<path d="M135.14 411.3V412.90000000000003" stroke="#6a6a6a" stroke-width="0.7"/>
<text x="135.14" y="420.3" text-anchor="middle" class="t">30</text>
<path d="M147.66 411.3V412.90000000000003" stroke="#6a6a6a" stroke-width="0.7"/>
<text x="147.66" y="420.3" text-anchor="middle" class="t">40</text>
<rect x="159.4" y="305.65" width="42.6" height="10.55" fill="#d9d9d9"/>
<text x="178.7" y="313.0" text-anchor="middle" class="t">tsRNA</text>
<rect x="161.4" y="404.72" width="1.26" height="2.58" fill="#33A02C"/>
<rect x="162.65" y="405.24" width="1.26" height="2.06" fill="#33A02C"/>
<rect x="163.9" y="405.93" width="1.26" height="1.37" fill="#33A02C"/>
<rect x="165.15" y="405.24" width="1.26" height="2.06" fill="#33A02C"/>
<rect x="166.4" y="405.24" width="1.26" height="2.06" fill="#33A02C"/>
<rect x="167.66" y="405.98" width="1.26" height="1.32" fill="#33A02C"/>
<rect x="168.91" y="406.4" width="1.26" height="0.9" fill="#33A02C"/>
<rect x="170.16" y="406.51" width="1.26" height="0.79" fill="#33A02C"/>
<rect x="171.41" y="406.77" width="1.26" height="0.53" fill="#33A02C"/>
<rect x="172.66" y="406.67" width="1.26" height="0.63" fill="#33A02C"/>
<rect x="173.92" y="406.93" width="1.26" height="0.37" fill="#33A02C"/>
<rect x="175.17" y="406.83" width="1.26" height="0.47" fill="#33A02C"/>
<rect x="176.42" y="406.72" width="1.26" height="0.58" fill="#33A02C"/>
<rect x="177.67" y="406.72" width="1.26" height="0.58" fill="#33A02C"/>
<rect x="178.92" y="406.83" width="1.26" height="0.47" fill="#33A02C"/>
<rect x="180.18" y="405.98" width="1.26" height="1.32" fill="#33A02C"/>
<rect x="181.43" y="406.77" width="1.26" height="0.53" fill="#33A02C"/>
<rect x="182.68" y="405.77" width="1.26" height="1.53" fill="#33A02C"/>
<rect x="183.93" y="406.04" width="1.26" height="1.26" fill="#33A02C"/>
<rect x="185.18" y="405.4" width="1.26" height="1.9" fill="#33A02C"/>
<rect x="186.44" y="406.4" width="1.26" height="0.9" fill="#33A02C"/>
<rect x="187.69" y="406.61" width="1.26" height="0.69" fill="#33A02C"/>
<rect x="188.94" y="406.04" width="1.26" height="1.26" fill="#33A02C"/>
<rect x="190.19" y="406.77" width="1.26" height="0.53" fill="#33A02C"/>
<rect x="191.44" y="406.83" width="1.26" height="0.47" fill="#33A02C"/>
<rect x="192.7" y="406.83" width="1.26" height="0.47" fill="#33A02C"/>
<rect x="193.95" y="406.72" width="1.26" height="0.58" fill="#33A02C"/>
<rect x="195.2" y="406.98" width="1.26" height="0.32" fill="#33A02C"/>
<rect x="196.45" y="407.19" width="1.26" height="0.11" fill="#33A02C"/>
<rect x="159.4" y="316.2" width="42.6" height="95.1" fill="none" stroke="#666" stroke-width="0.9"/>
<text x="200.4" y="324.0" text-anchor="end" class="t">5.0%</text>
<path d="M168.28 411.3V412.90000000000003" stroke="#6a6a6a" stroke-width="0.7"/>
<text x="168.28" y="420.3" text-anchor="middle" class="t">20</text>
<path d="M180.81 411.3V412.90000000000003" stroke="#6a6a6a" stroke-width="0.7"/>
<text x="180.81" y="420.3" text-anchor="middle" class="t">30</text>
<path d="M193.33 411.3V412.90000000000003" stroke="#6a6a6a" stroke-width="0.7"/>
<text x="193.33" y="420.3" text-anchor="middle" class="t">40</text>
<rect x="205.06" y="305.65" width="42.6" height="10.55" fill="#d9d9d9"/>
<text x="224.46" y="313.0" text-anchor="middle" class="t">rsRNA</text>
<rect x="207.06" y="393.33" width="1.26" height="13.97" fill="#F08F8F"/>
<rect x="208.31" y="393.33" width="1.26" height="13.97" fill="#F08F8F"/>
<rect x="209.56" y="392.18" width="1.26" height="15.12" fill="#F08F8F"/>
<rect x="210.82" y="394.97" width="1.26" height="12.33" fill="#F08F8F"/>
<rect x="212.07" y="396.13" width="1.26" height="11.17" fill="#F08F8F"/>
<rect x="213.32" y="395.23" width="1.26" height="12.07" fill="#F08F8F"/>
<rect x="214.57" y="396.92" width="1.26" height="10.38" fill="#F08F8F"/>
<rect x="215.82" y="395.76" width="1.26" height="11.54" fill="#F08F8F"/>
<rect x="217.08" y="346.43" width="1.26" height="60.87" fill="#F08F8F"/>
<rect x="218.33" y="394.07" width="1.26" height="13.23" fill="#F08F8F"/>
<rect x="219.58" y="396.71" width="1.26" height="10.59" fill="#F08F8F"/>
<rect x="220.83" y="395.81" width="1.26" height="11.49" fill="#F08F8F"/>
<rect x="222.08" y="398.45" width="1.26" height="8.85" fill="#F08F8F"/>
<rect x="223.34" y="397.66" width="1.26" height="9.64" fill="#F08F8F"/>
<rect x="224.59" y="390.59" width="1.26" height="16.71" fill="#F08F8F"/>
<rect x="225.84" y="388.59" width="1.26" height="18.71" fill="#F08F8F"/>
<rect x="227.09" y="380.69" width="1.26" height="26.61" fill="#F08F8F"/>
<rect x="228.34" y="388.96" width="1.26" height="18.34" fill="#F08F8F"/>
<rect x="229.6" y="399.13" width="1.26" height="8.17" fill="#F08F8F"/>
<rect x="230.85" y="400.34" width="1.26" height="6.96" fill="#F08F8F"/>
<rect x="232.1" y="399.61" width="1.26" height="7.69" fill="#F08F8F"/>
<rect x="233.35" y="402.08" width="1.26" height="5.22" fill="#F08F8F"/>
<rect x="234.6" y="402.08" width="1.26" height="5.22" fill="#F08F8F"/>
<rect x="235.86" y="402.08" width="1.26" height="5.22" fill="#F08F8F"/>
<rect x="237.11" y="401.98" width="1.26" height="5.32" fill="#F08F8F"/>
<rect x="238.36" y="401.19" width="1.26" height="6.11" fill="#F08F8F"/>
<rect x="239.61" y="400.92" width="1.26" height="6.38" fill="#F08F8F"/>
<rect x="240.86" y="401.5" width="1.26" height="5.8" fill="#F08F8F"/>
<rect x="242.12" y="398.76" width="1.26" height="8.54" fill="#F08F8F"/>
<rect x="243.37" y="403.51" width="1.26" height="3.79" fill="#F08F8F"/>
<rect x="244.62" y="402.98" width="1.26" height="4.32" fill="#F08F8F"/>
<rect x="205.06" y="316.2" width="42.6" height="95.1" fill="none" stroke="#666" stroke-width="0.9"/>
<text x="246.06" y="324.0" text-anchor="end" class="t">71.0%</text>
<path d="M213.95 411.3V412.90000000000003" stroke="#6a6a6a" stroke-width="0.7"/>
<text x="213.95" y="420.3" text-anchor="middle" class="t">20</text>
<path d="M226.47 411.3V412.90000000000003" stroke="#6a6a6a" stroke-width="0.7"/>
<text x="226.47" y="420.3" text-anchor="middle" class="t">30</text>
<path d="M238.99 411.3V412.90000000000003" stroke="#6a6a6a" stroke-width="0.7"/>
<text x="238.99" y="420.3" text-anchor="middle" class="t">40</text>
<rect x="205.06" y="305.65" width="42.6" height="10.55" fill="none" stroke="#C83232" stroke-width="1"/>
<rect x="250.72" y="305.65" width="42.6" height="10.55" fill="#d9d9d9"/>
<text x="272.32" y="313.0" text-anchor="middle" class="t">antisense</text>
<rect x="252.72" y="406.67" width="1.26" height="0.63" fill="#E31A1C"/>
<rect x="253.98" y="407.14" width="1.26" height="0.16" fill="#E31A1C"/>
<rect x="255.23" y="407.14" width="1.26" height="0.16" fill="#E31A1C"/>
<rect x="256.48" y="407.14" width="1.26" height="0.16" fill="#E31A1C"/>
<rect x="257.73" y="407.14" width="1.26" height="0.16" fill="#E31A1C"/>
<rect x="258.99" y="407.14" width="1.26" height="0.16" fill="#E31A1C"/>
<rect x="260.24" y="407.14" width="1.26" height="0.16" fill="#E31A1C"/>
<rect x="261.49" y="407.14" width="1.26" height="0.16" fill="#E31A1C"/>
<rect x="262.74" y="407.14" width="1.26" height="0.16" fill="#E31A1C"/>
<rect x="263.99" y="407.14" width="1.26" height="0.16" fill="#E31A1C"/>
<rect x="265.25" y="407.14" width="1.26" height="0.16" fill="#E31A1C"/>
<rect x="266.5" y="407.14" width="1.26" height="0.16" fill="#E31A1C"/>
<rect x="267.75" y="407.14" width="1.26" height="0.16" fill="#E31A1C"/>
<rect x="269" y="407.14" width="1.26" height="0.16" fill="#E31A1C"/>
<rect x="270.25" y="407.14" width="1.26" height="0.16" fill="#E31A1C"/>
<rect x="271.5" y="407.14" width="1.26" height="0.16" fill="#E31A1C"/>
<rect x="272.76" y="407.14" width="1.26" height="0.16" fill="#E31A1C"/>
<rect x="274.01" y="407.14" width="1.26" height="0.16" fill="#E31A1C"/>
<rect x="275.26" y="407.14" width="1.26" height="0.16" fill="#E31A1C"/>
<rect x="276.51" y="407.14" width="1.26" height="0.16" fill="#E31A1C"/>
<rect x="277.76" y="407.14" width="1.26" height="0.16" fill="#E31A1C"/>
<rect x="279.02" y="407.14" width="1.26" height="0.16" fill="#E31A1C"/>
<rect x="280.27" y="407.14" width="1.26" height="0.16" fill="#E31A1C"/>
<rect x="281.52" y="407.14" width="1.26" height="0.16" fill="#E31A1C"/>
<rect x="282.77" y="407.14" width="1.26" height="0.16" fill="#E31A1C"/>
<rect x="284.02" y="407.14" width="1.26" height="0.16" fill="#E31A1C"/>
<rect x="285.28" y="407.14" width="1.26" height="0.16" fill="#E31A1C"/>
<rect x="286.53" y="407.14" width="1.26" height="0.16" fill="#E31A1C"/>
<rect x="287.78" y="407.14" width="1.26" height="0.16" fill="#E31A1C"/>
<rect x="289.03" y="407.14" width="1.26" height="0.16" fill="#E31A1C"/>
<rect x="290.28" y="407.14" width="1.26" height="0.16" fill="#E31A1C"/>
<rect x="250.72" y="316.2" width="42.6" height="95.1" fill="none" stroke="#666" stroke-width="0.9"/>
<text x="291.72" y="324.0" text-anchor="end" class="t">0.2%</text>
<path d="M259.62 411.3V412.90000000000003" stroke="#6a6a6a" stroke-width="0.7"/>
<text x="259.62" y="420.3" text-anchor="middle" class="t">20</text>
<path d="M272.13 411.3V412.90000000000003" stroke="#6a6a6a" stroke-width="0.7"/>
<text x="272.13" y="420.3" text-anchor="middle" class="t">30</text>
<path d="M284.65 411.3V412.90000000000003" stroke="#6a6a6a" stroke-width="0.7"/>
<text x="284.65" y="420.3" text-anchor="middle" class="t">40</text>
<rect x="296.39" y="305.65" width="42.6" height="10.55" fill="#d9d9d9"/>
<text x="314.89" y="313.0" text-anchor="middle" class="t">other</text>
<rect x="298.39" y="394.6" width="1.26" height="12.7" fill="#F5B764"/>
<rect x="299.64" y="399.13" width="1.26" height="8.17" fill="#F5B764"/>
<rect x="300.89" y="398.97" width="1.26" height="8.33" fill="#F5B764"/>
<rect x="302.15" y="398.39" width="1.26" height="8.91" fill="#F5B764"/>
<rect x="303.4" y="397.6" width="1.26" height="9.7" fill="#F5B764"/>
<rect x="304.65" y="397.23" width="1.26" height="10.07" fill="#F5B764"/>
<rect x="305.9" y="403.45" width="1.26" height="3.85" fill="#F5B764"/>
<rect x="307.15" y="403.66" width="1.26" height="3.64" fill="#F5B764"/>
<rect x="308.41" y="404.82" width="1.26" height="2.48" fill="#F5B764"/>
<rect x="309.66" y="405.03" width="1.26" height="2.27" fill="#F5B764"/>
<rect x="310.91" y="404.03" width="1.26" height="3.27" fill="#F5B764"/>
<rect x="312.16" y="404.82" width="1.26" height="2.48" fill="#F5B764"/>
<rect x="313.41" y="404.03" width="1.26" height="3.27" fill="#F5B764"/>
<rect x="314.67" y="404.82" width="1.26" height="2.48" fill="#F5B764"/>
<rect x="315.92" y="402.77" width="1.26" height="4.53" fill="#F5B764"/>
<rect x="317.17" y="402.14" width="1.26" height="5.16" fill="#F5B764"/>
<rect x="318.42" y="404.82" width="1.26" height="2.48" fill="#F5B764"/>
<rect x="319.67" y="405.77" width="1.26" height="1.53" fill="#F5B764"/>
<rect x="320.93" y="406.3" width="1.26" height="1" fill="#F5B764"/>
<rect x="322.18" y="406.46" width="1.26" height="0.84" fill="#F5B764"/>
<rect x="323.43" y="406.61" width="1.26" height="0.69" fill="#F5B764"/>
<rect x="324.68" y="406.77" width="1.26" height="0.53" fill="#F5B764"/>
<rect x="325.93" y="406.77" width="1.26" height="0.53" fill="#F5B764"/>
<rect x="327.19" y="406.77" width="1.26" height="0.53" fill="#F5B764"/>
<rect x="328.44" y="406.3" width="1.26" height="1" fill="#F5B764"/>
<rect x="329.69" y="406.77" width="1.26" height="0.53" fill="#F5B764"/>
<rect x="330.94" y="406.77" width="1.26" height="0.53" fill="#F5B764"/>
<rect x="332.19" y="406.77" width="1.26" height="0.53" fill="#F5B764"/>
<rect x="333.45" y="406.88" width="1.26" height="0.42" fill="#F5B764"/>
<rect x="334.7" y="407.04" width="1.26" height="0.26" fill="#F5B764"/>
<rect x="335.95" y="407.04" width="1.26" height="0.26" fill="#F5B764"/>
<rect x="296.39" y="316.2" width="42.6" height="95.1" fill="none" stroke="#666" stroke-width="0.9"/>
<text x="337.39" y="324.0" text-anchor="end" class="t">19.8%</text>
<path d="M305.28 411.3V412.90000000000003" stroke="#6a6a6a" stroke-width="0.7"/>
<text x="305.28" y="420.3" text-anchor="middle" class="t">20</text>
<path d="M317.8 411.3V412.90000000000003" stroke="#6a6a6a" stroke-width="0.7"/>
<text x="317.8" y="420.3" text-anchor="middle" class="t">30</text>
<path d="M330.32 411.3V412.90000000000003" stroke="#6a6a6a" stroke-width="0.7"/>
<text x="330.32" y="420.3" text-anchor="middle" class="t">40</text>
<path d="M20.799999999999997 407.3H22.4" stroke="#6a6a6a" stroke-width="0.8"/>
<text x="19.75" y="410.4" text-anchor="end" class="t">0</text>
<path d="M20.799999999999997 380.95H22.4" stroke="#6a6a6a" stroke-width="0.8"/>
<text x="19.75" y="384.05" text-anchor="end" class="t">5</text>
<path d="M20.799999999999997 354.6H22.4" stroke="#6a6a6a" stroke-width="0.8"/>
<text x="20.6" y="357.7" text-anchor="end" class="t">10</text>
<path d="M20.799999999999997 328.25H22.4" stroke="#6a6a6a" stroke-width="0.8"/>
<text x="20.6" y="331.35" text-anchor="end" class="t">15</text>
<text x="182.8" y="427.2" text-anchor="middle" class="t">length</text>
<text transform="translate(8.2,360.5) rotate(-90)" text-anchor="middle" class="t">mean %</text>
</g>
<text x="404.05" y="478.25" textLength="225.2" lengthAdjust="spacing" class="t">D. Low-quality embryos medium Pandora sequencing</text>
<rect x="447.9" y="492.2" width="8.4" height="8.4" fill="#A5C8DC"/>
<text x="460.9" y="499" class="t">miRNA</text>
<rect x="496.7" y="492.2" width="8.4" height="8.4" fill="#236EAA"/>
<text x="509.7" y="499" class="t">piRNA</text>
<rect x="542.6" y="492.2" width="8.4" height="8.4" fill="#AAD287"/>
<text x="555.6" y="499" class="t">ysRNA</text>
<rect x="447.9" y="505.35" width="8.4" height="8.4" fill="#339B32"/>
<text x="460.9" y="512.15" class="t">tsRNA</text>
<rect x="496.7" y="505.35" width="8.4" height="8.4" fill="#EB9696"/>
<text x="509.7" y="512.15" class="t">rsRNA</text>
<rect x="542.6" y="505.35" width="8.4" height="8.4" fill="#D61E1E"/>
<text x="555.6" y="512.15" class="t">antisense</text>
<rect x="447.9" y="518.5" width="8.4" height="8.4" fill="#F0B86C"/>
<text x="460.9" y="525.3" class="t">other</text>
<g transform="translate(343.55,470.55)">
<rect x="36.4" y="228.68" width="8.5" height="31.12" fill="#F0B86C"/>
<rect x="36.4" y="225.81" width="8.5" height="2.87" fill="#D61E1E"/>
<rect x="36.4" y="210.84" width="8.5" height="14.96" fill="#EC9494"/>
<rect x="36.4" y="206.05" width="8.5" height="4.79" fill="#339B32"/>
<rect x="36.4" y="205.58" width="8.5" height="0.48" fill="#A5C8DC"/>
<rect x="45.73" y="233.23" width="8.5" height="26.57" fill="#F0B86C"/>
<rect x="45.73" y="232.75" width="8.5" height="0.48" fill="#D61E1E"/>
<rect x="45.73" y="218.02" width="8.5" height="14.72" fill="#EC9494"/>
<rect x="45.73" y="215.87" width="8.5" height="2.15" fill="#339B32"/>
<rect x="55.06" y="227.48" width="8.5" height="32.32" fill="#F0B86C"/>
<rect x="55.06" y="226.88" width="8.5" height="0.6" fill="#D61E1E"/>
<rect x="55.06" y="207.73" width="8.5" height="19.15" fill="#EC9494"/>
<rect x="55.06" y="205.7" width="8.5" height="2.03" fill="#339B32"/>
<rect x="55.06" y="205.22" width="8.5" height="0.48" fill="#A5C8DC"/>
<rect x="64.39" y="234.42" width="8.5" height="25.38" fill="#F0B86C"/>
<rect x="64.39" y="233.47" width="8.5" height="0.96" fill="#D61E1E"/>
<rect x="64.39" y="212.04" width="8.5" height="21.43" fill="#EC9494"/>
<rect x="64.39" y="209.53" width="8.5" height="2.51" fill="#339B32"/>
<rect x="64.39" y="202.58" width="8.5" height="6.94" fill="#A5C8DC"/>
<rect x="73.72" y="232.99" width="8.5" height="26.81" fill="#F0B86C"/>
<rect x="73.72" y="212.88" width="8.5" height="20.11" fill="#EC9494"/>
<rect x="73.72" y="209.77" width="8.5" height="3.11" fill="#339B32"/>
<rect x="73.72" y="209.17" width="8.5" height="0.6" fill="#A5C8DC"/>
<rect x="83.05" y="225.45" width="8.5" height="34.35" fill="#F0B86C"/>
<rect x="83.05" y="207.73" width="8.5" height="17.72" fill="#EC9494"/>
<rect x="83.05" y="205.7" width="8.5" height="2.03" fill="#339B32"/>
<rect x="92.38" y="242.32" width="8.5" height="17.48" fill="#F0B86C"/>
<rect x="92.38" y="226.64" width="8.5" height="15.68" fill="#EC9494"/>
<rect x="92.38" y="225.09" width="8.5" height="1.56" fill="#339B32"/>
<rect x="92.38" y="223.77" width="8.5" height="1.32" fill="#A5C8DC"/>
<rect x="101.71" y="243.52" width="8.5" height="16.28" fill="#F0B86C"/>
<rect x="101.71" y="222.69" width="8.5" height="20.83" fill="#EC9494"/>
<rect x="101.71" y="221.14" width="8.5" height="1.56" fill="#339B32"/>
<rect x="101.71" y="218.62" width="8.5" height="2.51" fill="#A5C8DC"/>
<rect x="111.04" y="243.52" width="8.5" height="16.28" fill="#F0B86C"/>
<rect x="111.04" y="162.6" width="8.5" height="80.92" fill="#EC9494"/>
<rect x="111.04" y="161.05" width="8.5" height="1.56" fill="#339B32"/>
<rect x="120.37" y="242.32" width="8.5" height="17.48" fill="#F0B86C"/>
<rect x="120.37" y="222.69" width="8.5" height="19.63" fill="#EC9494"/>
<rect x="120.37" y="221.5" width="8.5" height="1.2" fill="#339B32"/>
<rect x="129.7" y="231.79" width="8.5" height="28.01" fill="#F0B86C"/>
<rect x="129.7" y="213.48" width="8.5" height="18.31" fill="#EC9494"/>
<rect x="129.7" y="212.52" width="8.5" height="0.96" fill="#339B32"/>
<rect x="139.03" y="239.21" width="8.5" height="20.59" fill="#F0B86C"/>
<rect x="139.03" y="221.5" width="8.5" height="17.72" fill="#EC9494"/>
<rect x="139.03" y="220.66" width="8.5" height="0.84" fill="#339B32"/>
<rect x="148.36" y="236.94" width="8.5" height="22.86" fill="#F0B86C"/>
<rect x="148.36" y="220.66" width="8.5" height="16.28" fill="#EC9494"/>
<rect x="148.36" y="219.46" width="8.5" height="1.2" fill="#339B32"/>
<rect x="157.69" y="236.94" width="8.5" height="22.86" fill="#F0B86C"/>
<rect x="157.69" y="216.71" width="8.5" height="20.23" fill="#EC9494"/>
<rect x="157.69" y="215.15" width="8.5" height="1.56" fill="#339B32"/>
<rect x="157.69" y="214.67" width="8.5" height="0.48" fill="#A5C8DC"/>
<rect x="167.02" y="227.48" width="8.5" height="32.32" fill="#F0B86C"/>
<rect x="167.02" y="195.76" width="8.5" height="31.72" fill="#EC9494"/>
<rect x="167.02" y="194.32" width="8.5" height="1.44" fill="#339B32"/>
<rect x="176.35" y="213.72" width="8.5" height="46.08" fill="#F0B86C"/>
<rect x="176.35" y="174.81" width="8.5" height="38.9" fill="#EC9494"/>
<rect x="176.35" y="170.38" width="8.5" height="4.43" fill="#339B32"/>
<rect x="185.68" y="237.78" width="8.5" height="22.02" fill="#F0B86C"/>
<rect x="185.68" y="203.78" width="8.5" height="33.99" fill="#EC9494"/>
<rect x="185.68" y="202.58" width="8.5" height="1.2" fill="#339B32"/>
<rect x="195.01" y="248.67" width="8.5" height="11.13" fill="#F0B86C"/>
<rect x="195.01" y="193.73" width="8.5" height="54.94" fill="#EC9494"/>
<rect x="195.01" y="187.98" width="8.5" height="5.75" fill="#339B32"/>
<rect x="204.34" y="254.65" width="8.5" height="5.15" fill="#F0B86C"/>
<rect x="204.34" y="239.21" width="8.5" height="15.44" fill="#EC9494"/>
<rect x="204.34" y="235.62" width="8.5" height="3.59" fill="#339B32"/>
<rect x="213.67" y="254.65" width="8.5" height="5.15" fill="#F0B86C"/>
<rect x="213.67" y="240.77" width="8.5" height="13.89" fill="#EC9494"/>
<rect x="213.67" y="236.94" width="8.5" height="3.83" fill="#339B32"/>
<rect x="223" y="256.33" width="8.5" height="3.47" fill="#F0B86C"/>
<rect x="223" y="242.44" width="8.5" height="13.89" fill="#EC9494"/>
<rect x="223" y="240.77" width="8.5" height="1.68" fill="#339B32"/>
<rect x="232.33" y="257.88" width="8.5" height="1.92" fill="#F0B86C"/>
<rect x="232.33" y="247.23" width="8.5" height="10.65" fill="#EC9494"/>
<rect x="232.33" y="245.91" width="8.5" height="1.32" fill="#339B32"/>
<rect x="241.66" y="258.36" width="8.5" height="1.44" fill="#F0B86C"/>
<rect x="241.66" y="248.67" width="8.5" height="9.7" fill="#EC9494"/>
<rect x="241.66" y="246.75" width="8.5" height="1.92" fill="#339B32"/>
<rect x="250.99" y="258.12" width="8.5" height="1.68" fill="#F0B86C"/>
<rect x="250.99" y="247.83" width="8.5" height="10.29" fill="#EC9494"/>
<rect x="250.99" y="246.75" width="8.5" height="1.08" fill="#339B32"/>
<rect x="260.32" y="257.53" width="8.5" height="2.27" fill="#F0B86C"/>
<rect x="260.32" y="242.56" width="8.5" height="14.96" fill="#EC9494"/>
<rect x="260.32" y="241.49" width="8.5" height="1.08" fill="#339B32"/>
<rect x="269.65" y="258.6" width="8.5" height="1.2" fill="#F0B86C"/>
<rect x="269.65" y="245.68" width="8.5" height="12.93" fill="#EC9494"/>
<rect x="269.65" y="244.72" width="8.5" height="0.96" fill="#339B32"/>
<rect x="278.98" y="258.6" width="8.5" height="1.2" fill="#F0B86C"/>
<rect x="278.98" y="243.76" width="8.5" height="14.84" fill="#EC9494"/>
<rect x="278.98" y="242.8" width="8.5" height="0.96" fill="#339B32"/>
<rect x="288.31" y="258.6" width="8.5" height="1.2" fill="#F0B86C"/>
<rect x="288.31" y="246.63" width="8.5" height="11.97" fill="#EC9494"/>
<rect x="288.31" y="245.91" width="8.5" height="0.72" fill="#339B32"/>
<rect x="297.64" y="258.84" width="8.5" height="0.96" fill="#F0B86C"/>
<rect x="297.64" y="240.17" width="8.5" height="18.67" fill="#EC9494"/>
<rect x="297.64" y="239.81" width="8.5" height="0.36" fill="#339B32"/>
<rect x="306.97" y="259.2" width="8.5" height="0.6" fill="#F0B86C"/>
<rect x="306.97" y="252.5" width="8.5" height="6.7" fill="#EC9494"/>
<rect x="316.3" y="259.2" width="8.5" height="0.6" fill="#F0B86C"/>
<rect x="316.3" y="251.66" width="8.5" height="7.54" fill="#EC9494"/>
<path d="M22.0 71.1V268.8H339.3" fill="none" stroke="#6a6a6a" stroke-width="1.1"/>
<path d="M19.8 259.8H22.0" stroke="#6a6a6a" stroke-width="0.8"/>
<text x="19.25" y="262.7" text-anchor="end" class="t">0</text>
<path d="M19.8 199.95H22.0" stroke="#6a6a6a" stroke-width="0.8"/>
<text x="19.25" y="202.85" text-anchor="end" class="t">5</text>
<path d="M19.8 140.1H22.0" stroke="#6a6a6a" stroke-width="0.8"/>
<text x="19.55" y="143" text-anchor="end" class="t">10</text>
<path d="M19.8 80.25H22.0" stroke="#6a6a6a" stroke-width="0.8"/>
<text x="19.55" y="83.15" text-anchor="end" class="t">15</text>
<path d="M87.3 268.8V270.8" stroke="#6a6a6a" stroke-width="0.8"/>
<text x="87.3" y="278.0" text-anchor="middle" class="t">20</text>
<path d="M180.6 268.8V270.8" stroke="#6a6a6a" stroke-width="0.8"/>
<text x="180.6" y="278.0" text-anchor="middle" class="t">30</text>
<path d="M273.9 268.8V270.8" stroke="#6a6a6a" stroke-width="0.8"/>
<text x="273.9" y="278.0" text-anchor="middle" class="t">40</text>
<text x="182.7" y="286.1" text-anchor="middle" class="t">length</text>
<text transform="translate(7.8,166.9) rotate(-90)" text-anchor="middle" class="t">mean %</text>
</g>
<g transform="translate(343.2,470.35)">
<rect x="22.4" y="305.65" width="42.6" height="10.55" fill="#d9d9d9"/>
<text x="41.9" y="313.0" text-anchor="middle" class="t">miRNA</text>
<rect x="24.4" y="407.09" width="1.26" height="0.21" fill="#A6CEE3"/>
<rect x="26.9" y="407.09" width="1.26" height="0.21" fill="#A6CEE3"/>
<rect x="28.16" y="404.24" width="1.26" height="3.06" fill="#A6CEE3"/>
<rect x="29.41" y="407.04" width="1.26" height="0.26" fill="#A6CEE3"/>
<rect x="31.91" y="406.72" width="1.26" height="0.58" fill="#A6CEE3"/>
<rect x="33.16" y="406.19" width="1.26" height="1.11" fill="#A6CEE3"/>
<rect x="40.68" y="407.09" width="1.26" height="0.21" fill="#A6CEE3"/>
<rect x="22.4" y="316.2" width="42.6" height="95.1" fill="none" stroke="#666" stroke-width="0.9"/>
<text x="63.4" y="324.0" text-anchor="end" class="t">1.0%</text>
<path d="M31.29 411.3V412.90000000000003" stroke="#6a6a6a" stroke-width="0.7"/>
<text x="31.29" y="420.3" text-anchor="middle" class="t">20</text>
<path d="M43.81 411.3V412.90000000000003" stroke="#6a6a6a" stroke-width="0.7"/>
<text x="43.81" y="420.3" text-anchor="middle" class="t">30</text>
<path d="M56.33 411.3V412.90000000000003" stroke="#6a6a6a" stroke-width="0.7"/>
<text x="56.33" y="420.3" text-anchor="middle" class="t">40</text>
<rect x="68.06" y="305.65" width="42.6" height="10.55" fill="#d9d9d9"/>
<text x="87.46" y="313.0" text-anchor="middle" class="t">piRNA</text>
<rect x="70.06" y="407.14" width="1.26" height="0.16" fill="#1F78B4"/>
<rect x="71.32" y="407.14" width="1.26" height="0.16" fill="#1F78B4"/>
<rect x="72.57" y="407.14" width="1.26" height="0.16" fill="#1F78B4"/>
<rect x="73.82" y="407.14" width="1.26" height="0.16" fill="#1F78B4"/>
<rect x="75.07" y="407.14" width="1.26" height="0.16" fill="#1F78B4"/>
<rect x="76.33" y="407.14" width="1.26" height="0.16" fill="#1F78B4"/>
<rect x="77.58" y="407.14" width="1.26" height="0.16" fill="#1F78B4"/>
<rect x="78.83" y="407.14" width="1.26" height="0.16" fill="#1F78B4"/>
<rect x="80.08" y="407.14" width="1.26" height="0.16" fill="#1F78B4"/>
<rect x="81.33" y="407.14" width="1.26" height="0.16" fill="#1F78B4"/>
<rect x="82.58" y="407.14" width="1.26" height="0.16" fill="#1F78B4"/>
<rect x="83.84" y="407.14" width="1.26" height="0.16" fill="#1F78B4"/>
<rect x="85.09" y="407.14" width="1.26" height="0.16" fill="#1F78B4"/>
<rect x="86.34" y="407.14" width="1.26" height="0.16" fill="#1F78B4"/>
<rect x="87.59" y="407.14" width="1.26" height="0.16" fill="#1F78B4"/>
<rect x="88.84" y="407.14" width="1.26" height="0.16" fill="#1F78B4"/>
<rect x="90.1" y="407.14" width="1.26" height="0.16" fill="#1F78B4"/>
<rect x="91.35" y="407.14" width="1.26" height="0.16" fill="#1F78B4"/>
<rect x="92.6" y="407.14" width="1.26" height="0.16" fill="#1F78B4"/>
<rect x="93.85" y="407.14" width="1.26" height="0.16" fill="#1F78B4"/>
<rect x="95.1" y="407.14" width="1.26" height="0.16" fill="#1F78B4"/>
<rect x="96.36" y="407.14" width="1.26" height="0.16" fill="#1F78B4"/>
<rect x="97.61" y="407.14" width="1.26" height="0.16" fill="#1F78B4"/>
<rect x="98.86" y="407.14" width="1.26" height="0.16" fill="#1F78B4"/>
<rect x="100.11" y="407.14" width="1.26" height="0.16" fill="#1F78B4"/>
<rect x="101.36" y="407.14" width="1.26" height="0.16" fill="#1F78B4"/>
<rect x="102.62" y="407.14" width="1.26" height="0.16" fill="#1F78B4"/>
<rect x="103.87" y="407.14" width="1.26" height="0.16" fill="#1F78B4"/>
<rect x="105.12" y="407.14" width="1.26" height="0.16" fill="#1F78B4"/>
<rect x="106.37" y="407.14" width="1.26" height="0.16" fill="#1F78B4"/>
<rect x="107.62" y="407.14" width="1.26" height="0.16" fill="#1F78B4"/>
<rect x="68.06" y="316.2" width="42.6" height="95.1" fill="none" stroke="#666" stroke-width="0.9"/>
<text x="109.06" y="324.0" text-anchor="end" class="t">0.3%</text>
<path d="M76.95 411.3V412.90000000000003" stroke="#6a6a6a" stroke-width="0.7"/>
<text x="76.95" y="420.3" text-anchor="middle" class="t">20</text>
<path d="M89.47 411.3V412.90000000000003" stroke="#6a6a6a" stroke-width="0.7"/>
<text x="89.47" y="420.3" text-anchor="middle" class="t">30</text>
<path d="M101.99 411.3V412.90000000000003" stroke="#6a6a6a" stroke-width="0.7"/>
<text x="101.99" y="420.3" text-anchor="middle" class="t">40</text>
<rect x="113.73" y="305.65" width="42.6" height="10.55" fill="#d9d9d9"/>
<text x="133.53" y="313.0" text-anchor="middle" class="t">ysRNA</text>
<rect x="115.73" y="407.19" width="1.26" height="0.11" fill="#B2DF8A"/>
<rect x="116.98" y="407.19" width="1.26" height="0.11" fill="#B2DF8A"/>
<rect x="118.23" y="407.19" width="1.26" height="0.11" fill="#B2DF8A"/>
<rect x="119.49" y="407.19" width="1.26" height="0.11" fill="#B2DF8A"/>
<rect x="120.74" y="407.19" width="1.26" height="0.11" fill="#B2DF8A"/>
<rect x="121.99" y="407.19" width="1.26" height="0.11" fill="#B2DF8A"/>
<rect x="123.24" y="407.19" width="1.26" height="0.11" fill="#B2DF8A"/>
<rect x="124.49" y="407.19" width="1.26" height="0.11" fill="#B2DF8A"/>
<rect x="125.75" y="407.19" width="1.26" height="0.11" fill="#B2DF8A"/>
<rect x="127" y="407.19" width="1.26" height="0.11" fill="#B2DF8A"/>
<rect x="128.25" y="407.19" width="1.26" height="0.11" fill="#B2DF8A"/>
<rect x="129.5" y="407.19" width="1.26" height="0.11" fill="#B2DF8A"/>
<rect x="130.75" y="407.19" width="1.26" height="0.11" fill="#B2DF8A"/>
<rect x="132.01" y="407.19" width="1.26" height="0.11" fill="#B2DF8A"/>
<rect x="133.26" y="407.19" width="1.26" height="0.11" fill="#B2DF8A"/>
<rect x="134.51" y="407.19" width="1.26" height="0.11" fill="#B2DF8A"/>
<rect x="135.76" y="407.19" width="1.26" height="0.11" fill="#B2DF8A"/>
<rect x="137.01" y="407.19" width="1.26" height="0.11" fill="#B2DF8A"/>
<rect x="138.27" y="407.19" width="1.26" height="0.11" fill="#B2DF8A"/>
<rect x="139.52" y="407.19" width="1.26" height="0.11" fill="#B2DF8A"/>
<rect x="140.77" y="407.19" width="1.26" height="0.11" fill="#B2DF8A"/>
<rect x="142.02" y="407.19" width="1.26" height="0.11" fill="#B2DF8A"/>
<rect x="143.27" y="407.19" width="1.26" height="0.11" fill="#B2DF8A"/>
<rect x="144.53" y="407.19" width="1.26" height="0.11" fill="#B2DF8A"/>
<rect x="145.78" y="407.19" width="1.26" height="0.11" fill="#B2DF8A"/>
<rect x="147.03" y="407.19" width="1.26" height="0.11" fill="#B2DF8A"/>
<rect x="148.28" y="407.19" width="1.26" height="0.11" fill="#B2DF8A"/>
<rect x="149.53" y="407.19" width="1.26" height="0.11" fill="#B2DF8A"/>
<rect x="150.79" y="407.19" width="1.26" height="0.11" fill="#B2DF8A"/>
<rect x="152.04" y="407.19" width="1.26" height="0.11" fill="#B2DF8A"/>
<rect x="153.29" y="407.19" width="1.26" height="0.11" fill="#B2DF8A"/>
<rect x="113.73" y="316.2" width="42.6" height="95.1" fill="none" stroke="#666" stroke-width="0.9"/>
<text x="154.73" y="324.0" text-anchor="end" class="t">0.0%</text>
<path d="M122.62 411.3V412.90000000000003" stroke="#6a6a6a" stroke-width="0.7"/>
<text x="122.62" y="420.3" text-anchor="middle" class="t">20</text>
<path d="M135.14 411.3V412.90000000000003" stroke="#6a6a6a" stroke-width="0.7"/>
<text x="135.14" y="420.3" text-anchor="middle" class="t">30</text>
<path d="M147.66 411.3V412.90000000000003" stroke="#6a6a6a" stroke-width="0.7"/>
<text x="147.66" y="420.3" text-anchor="middle" class="t">40</text>
<rect x="159.4" y="305.65" width="42.6" height="10.55" fill="#d9d9d9"/>
<text x="178.7" y="313.0" text-anchor="middle" class="t">tsRNA</text>
<rect x="161.4" y="405.19" width="1.26" height="2.11" fill="#33A02C"/>
<rect x="162.65" y="406.35" width="1.26" height="0.95" fill="#33A02C"/>
<rect x="163.9" y="406.4" width="1.26" height="0.9" fill="#33A02C"/>
<rect x="165.15" y="406.19" width="1.26" height="1.11" fill="#33A02C"/>
<rect x="166.4" y="405.93" width="1.26" height="1.37" fill="#33A02C"/>
<rect x="167.66" y="406.4" width="1.26" height="0.9" fill="#33A02C"/>
<rect x="168.91" y="406.61" width="1.26" height="0.69" fill="#33A02C"/>
<rect x="170.16" y="406.61" width="1.26" height="0.69" fill="#33A02C"/>
<rect x="171.41" y="406.61" width="1.26" height="0.69" fill="#33A02C"/>
<rect x="172.66" y="406.77" width="1.26" height="0.53" fill="#33A02C"/>
<rect x="173.92" y="406.88" width="1.26" height="0.42" fill="#33A02C"/>
<rect x="175.17" y="406.93" width="1.26" height="0.37" fill="#33A02C"/>
<rect x="176.42" y="406.77" width="1.26" height="0.53" fill="#33A02C"/>
<rect x="177.67" y="406.61" width="1.26" height="0.69" fill="#33A02C"/>
<rect x="178.92" y="406.67" width="1.26" height="0.63" fill="#33A02C"/>
<rect x="180.18" y="405.35" width="1.26" height="1.95" fill="#33A02C"/>
<rect x="181.43" y="406.77" width="1.26" height="0.53" fill="#33A02C"/>
<rect x="182.68" y="404.77" width="1.26" height="2.53" fill="#33A02C"/>
<rect x="183.93" y="405.72" width="1.26" height="1.58" fill="#33A02C"/>
<rect x="185.18" y="405.61" width="1.26" height="1.69" fill="#33A02C"/>
<rect x="186.44" y="406.56" width="1.26" height="0.74" fill="#33A02C"/>
<rect x="187.69" y="406.72" width="1.26" height="0.58" fill="#33A02C"/>
<rect x="188.94" y="406.46" width="1.26" height="0.84" fill="#33A02C"/>
<rect x="190.19" y="406.83" width="1.26" height="0.47" fill="#33A02C"/>
<rect x="191.44" y="406.83" width="1.26" height="0.47" fill="#33A02C"/>
<rect x="192.7" y="406.88" width="1.26" height="0.42" fill="#33A02C"/>
<rect x="193.95" y="406.88" width="1.26" height="0.42" fill="#33A02C"/>
<rect x="195.2" y="406.98" width="1.26" height="0.32" fill="#33A02C"/>
<rect x="196.45" y="407.14" width="1.26" height="0.16" fill="#33A02C"/>
<rect x="159.4" y="316.2" width="42.6" height="95.1" fill="none" stroke="#666" stroke-width="0.9"/>
<text x="200.4" y="324.0" text-anchor="end" class="t">4.3%</text>
<path d="M168.28 411.3V412.90000000000003" stroke="#6a6a6a" stroke-width="0.7"/>
<text x="168.28" y="420.3" text-anchor="middle" class="t">20</text>
<path d="M180.81 411.3V412.90000000000003" stroke="#6a6a6a" stroke-width="0.7"/>
<text x="180.81" y="420.3" text-anchor="middle" class="t">30</text>
<path d="M193.33 411.3V412.90000000000003" stroke="#6a6a6a" stroke-width="0.7"/>
<text x="193.33" y="420.3" text-anchor="middle" class="t">40</text>
<rect x="205.06" y="305.65" width="42.6" height="10.55" fill="#d9d9d9"/>
<text x="224.46" y="313.0" text-anchor="middle" class="t">rsRNA</text>
<rect x="207.06" y="400.71" width="1.26" height="6.59" fill="#F08F8F"/>
<rect x="208.31" y="400.82" width="1.26" height="6.48" fill="#F08F8F"/>
<rect x="209.56" y="398.87" width="1.26" height="8.43" fill="#F08F8F"/>
<rect x="210.82" y="397.87" width="1.26" height="9.43" fill="#F08F8F"/>
<rect x="212.07" y="398.45" width="1.26" height="8.85" fill="#F08F8F"/>
<rect x="213.32" y="399.5" width="1.26" height="7.8" fill="#F08F8F"/>
<rect x="214.57" y="400.4" width="1.26" height="6.9" fill="#F08F8F"/>
<rect x="215.82" y="398.13" width="1.26" height="9.17" fill="#F08F8F"/>
<rect x="217.08" y="371.67" width="1.26" height="35.63" fill="#F08F8F"/>
<rect x="218.33" y="398.66" width="1.26" height="8.64" fill="#F08F8F"/>
<rect x="219.58" y="399.24" width="1.26" height="8.06" fill="#F08F8F"/>
<rect x="220.83" y="399.5" width="1.26" height="7.8" fill="#F08F8F"/>
<rect x="222.08" y="400.13" width="1.26" height="7.17" fill="#F08F8F"/>
<rect x="223.34" y="398.39" width="1.26" height="8.91" fill="#F08F8F"/>
<rect x="224.59" y="393.33" width="1.26" height="13.97" fill="#F08F8F"/>
<rect x="225.84" y="390.17" width="1.26" height="17.13" fill="#F08F8F"/>
<rect x="227.09" y="392.33" width="1.26" height="14.97" fill="#F08F8F"/>
<rect x="228.34" y="383.11" width="1.26" height="24.19" fill="#F08F8F"/>
<rect x="229.6" y="400.5" width="1.26" height="6.8" fill="#F08F8F"/>
<rect x="230.85" y="401.19" width="1.26" height="6.11" fill="#F08F8F"/>
<rect x="232.1" y="401.19" width="1.26" height="6.11" fill="#F08F8F"/>
<rect x="233.35" y="402.61" width="1.26" height="4.69" fill="#F08F8F"/>
<rect x="234.6" y="403.03" width="1.26" height="4.27" fill="#F08F8F"/>
<rect x="235.86" y="402.77" width="1.26" height="4.53" fill="#F08F8F"/>
<rect x="237.11" y="400.71" width="1.26" height="6.59" fill="#F08F8F"/>
<rect x="238.36" y="401.61" width="1.26" height="5.69" fill="#F08F8F"/>
<rect x="239.61" y="400.77" width="1.26" height="6.53" fill="#F08F8F"/>
<rect x="240.86" y="402.03" width="1.26" height="5.27" fill="#F08F8F"/>
<rect x="242.12" y="399.08" width="1.26" height="8.22" fill="#F08F8F"/>
<rect x="243.37" y="404.35" width="1.26" height="2.95" fill="#F08F8F"/>
<rect x="244.62" y="403.98" width="1.26" height="3.32" fill="#F08F8F"/>
<rect x="205.06" y="316.2" width="42.6" height="95.1" fill="none" stroke="#666" stroke-width="0.9"/>
<text x="246.06" y="324.0" text-anchor="end" class="t">53.8%</text>
<path d="M213.95 411.3V412.90000000000003" stroke="#6a6a6a" stroke-width="0.7"/>
<text x="213.95" y="420.3" text-anchor="middle" class="t">20</text>
<path d="M226.47 411.3V412.90000000000003" stroke="#6a6a6a" stroke-width="0.7"/>
<text x="226.47" y="420.3" text-anchor="middle" class="t">30</text>
<path d="M238.99 411.3V412.90000000000003" stroke="#6a6a6a" stroke-width="0.7"/>
<text x="238.99" y="420.3" text-anchor="middle" class="t">40</text>
<rect x="205.06" y="305.65" width="42.6" height="10.55" fill="none" stroke="#C83232" stroke-width="1"/>
<rect x="250.72" y="305.65" width="42.6" height="10.55" fill="#d9d9d9"/>
<text x="272.32" y="313.0" text-anchor="middle" class="t">antisense</text>
<rect x="252.72" y="406.04" width="1.26" height="1.26" fill="#E31A1C"/>
<rect x="253.98" y="407.09" width="1.26" height="0.21" fill="#E31A1C"/>
<rect x="255.23" y="407.04" width="1.26" height="0.26" fill="#E31A1C"/>
<rect x="256.48" y="406.88" width="1.26" height="0.42" fill="#E31A1C"/>
<rect x="257.73" y="407.14" width="1.26" height="0.16" fill="#E31A1C"/>
<rect x="258.99" y="407.14" width="1.26" height="0.16" fill="#E31A1C"/>
<rect x="260.24" y="407.14" width="1.26" height="0.16" fill="#E31A1C"/>
<rect x="261.49" y="407.14" width="1.26" height="0.16" fill="#E31A1C"/>
<rect x="262.74" y="407.14" width="1.26" height="0.16" fill="#E31A1C"/>
<rect x="263.99" y="407.14" width="1.26" height="0.16" fill="#E31A1C"/>
<rect x="265.25" y="407.14" width="1.26" height="0.16" fill="#E31A1C"/>
<rect x="266.5" y="407.14" width="1.26" height="0.16" fill="#E31A1C"/>
<rect x="267.75" y="407.14" width="1.26" height="0.16" fill="#E31A1C"/>
<rect x="269" y="407.14" width="1.26" height="0.16" fill="#E31A1C"/>
<rect x="270.25" y="407.14" width="1.26" height="0.16" fill="#E31A1C"/>
<rect x="271.5" y="407.14" width="1.26" height="0.16" fill="#E31A1C"/>
<rect x="272.76" y="407.14" width="1.26" height="0.16" fill="#E31A1C"/>
<rect x="274.01" y="407.14" width="1.26" height="0.16" fill="#E31A1C"/>
<rect x="275.26" y="407.14" width="1.26" height="0.16" fill="#E31A1C"/>
<rect x="276.51" y="407.14" width="1.26" height="0.16" fill="#E31A1C"/>
<rect x="277.76" y="407.14" width="1.26" height="0.16" fill="#E31A1C"/>
<rect x="279.02" y="407.14" width="1.26" height="0.16" fill="#E31A1C"/>
<rect x="280.27" y="407.14" width="1.26" height="0.16" fill="#E31A1C"/>
<rect x="281.52" y="407.14" width="1.26" height="0.16" fill="#E31A1C"/>
<rect x="282.77" y="407.14" width="1.26" height="0.16" fill="#E31A1C"/>
<rect x="284.02" y="407.14" width="1.26" height="0.16" fill="#E31A1C"/>
<rect x="285.28" y="407.14" width="1.26" height="0.16" fill="#E31A1C"/>
<rect x="286.53" y="407.14" width="1.26" height="0.16" fill="#E31A1C"/>
<rect x="287.78" y="407.14" width="1.26" height="0.16" fill="#E31A1C"/>
<rect x="289.03" y="407.14" width="1.26" height="0.16" fill="#E31A1C"/>
<rect x="290.28" y="407.14" width="1.26" height="0.16" fill="#E31A1C"/>
<rect x="250.72" y="316.2" width="42.6" height="95.1" fill="none" stroke="#666" stroke-width="0.9"/>
<text x="291.72" y="324.0" text-anchor="end" class="t">0.3%</text>
<path d="M259.62 411.3V412.90000000000003" stroke="#6a6a6a" stroke-width="0.7"/>
<text x="259.62" y="420.3" text-anchor="middle" class="t">20</text>
<path d="M272.13 411.3V412.90000000000003" stroke="#6a6a6a" stroke-width="0.7"/>
<text x="272.13" y="420.3" text-anchor="middle" class="t">30</text>
<path d="M284.65 411.3V412.90000000000003" stroke="#6a6a6a" stroke-width="0.7"/>
<text x="284.65" y="420.3" text-anchor="middle" class="t">40</text>
<rect x="296.39" y="305.65" width="42.6" height="10.55" fill="#d9d9d9"/>
<text x="314.89" y="313.0" text-anchor="middle" class="t">other</text>
<rect x="298.39" y="393.6" width="1.26" height="13.7" fill="#F5B764"/>
<rect x="299.64" y="395.6" width="1.26" height="11.7" fill="#F5B764"/>
<rect x="300.89" y="393.07" width="1.26" height="14.23" fill="#F5B764"/>
<rect x="302.15" y="396.13" width="1.26" height="11.17" fill="#F5B764"/>
<rect x="303.4" y="395.5" width="1.26" height="11.8" fill="#F5B764"/>
<rect x="304.65" y="392.18" width="1.26" height="15.12" fill="#F5B764"/>
<rect x="305.9" y="399.61" width="1.26" height="7.69" fill="#F5B764"/>
<rect x="307.15" y="400.13" width="1.26" height="7.17" fill="#F5B764"/>
<rect x="308.41" y="400.13" width="1.26" height="7.17" fill="#F5B764"/>
<rect x="309.66" y="399.61" width="1.26" height="7.69" fill="#F5B764"/>
<rect x="310.91" y="394.97" width="1.26" height="12.33" fill="#F5B764"/>
<rect x="312.16" y="398.24" width="1.26" height="9.06" fill="#F5B764"/>
<rect x="313.41" y="397.23" width="1.26" height="10.07" fill="#F5B764"/>
<rect x="314.67" y="397.23" width="1.26" height="10.07" fill="#F5B764"/>
<rect x="315.92" y="393.07" width="1.26" height="14.23" fill="#F5B764"/>
<rect x="317.17" y="387.01" width="1.26" height="20.29" fill="#F5B764"/>
<rect x="318.42" y="397.6" width="1.26" height="9.7" fill="#F5B764"/>
<rect x="319.67" y="402.4" width="1.26" height="4.9" fill="#F5B764"/>
<rect x="320.93" y="405.03" width="1.26" height="2.27" fill="#F5B764"/>
<rect x="322.18" y="405.03" width="1.26" height="2.27" fill="#F5B764"/>
<rect x="323.43" y="405.77" width="1.26" height="1.53" fill="#F5B764"/>
<rect x="324.68" y="406.46" width="1.26" height="0.84" fill="#F5B764"/>
<rect x="325.93" y="406.67" width="1.26" height="0.63" fill="#F5B764"/>
<rect x="327.19" y="406.56" width="1.26" height="0.74" fill="#F5B764"/>
<rect x="328.44" y="406.3" width="1.26" height="1" fill="#F5B764"/>
<rect x="329.69" y="406.77" width="1.26" height="0.53" fill="#F5B764"/>
<rect x="330.94" y="406.77" width="1.26" height="0.53" fill="#F5B764"/>
<rect x="332.19" y="406.77" width="1.26" height="0.53" fill="#F5B764"/>
<rect x="333.45" y="406.88" width="1.26" height="0.42" fill="#F5B764"/>
<rect x="334.7" y="407.04" width="1.26" height="0.26" fill="#F5B764"/>
<rect x="335.95" y="407.04" width="1.26" height="0.26" fill="#F5B764"/>
<rect x="296.39" y="316.2" width="42.6" height="95.1" fill="none" stroke="#666" stroke-width="0.9"/>
<text x="337.39" y="324.0" text-anchor="end" class="t">40.2%</text>
<path d="M305.28 411.3V412.90000000000003" stroke="#6a6a6a" stroke-width="0.7"/>
<text x="305.28" y="420.3" text-anchor="middle" class="t">20</text>
<path d="M317.8 411.3V412.90000000000003" stroke="#6a6a6a" stroke-width="0.7"/>
<text x="317.8" y="420.3" text-anchor="middle" class="t">30</text>
<path d="M330.32 411.3V412.90000000000003" stroke="#6a6a6a" stroke-width="0.7"/>
<text x="330.32" y="420.3" text-anchor="middle" class="t">40</text>
<path d="M20.799999999999997 407.3H22.4" stroke="#6a6a6a" stroke-width="0.8"/>
<text x="19.75" y="410.4" text-anchor="end" class="t">0</text>
<path d="M20.799999999999997 380.95H22.4" stroke="#6a6a6a" stroke-width="0.8"/>
<text x="19.75" y="384.05" text-anchor="end" class="t">5</text>
<path d="M20.799999999999997 354.6H22.4" stroke="#6a6a6a" stroke-width="0.8"/>
<text x="20.6" y="357.7" text-anchor="end" class="t">10</text>
<path d="M20.799999999999997 328.25H22.4" stroke="#6a6a6a" stroke-width="0.8"/>
<text x="20.6" y="331.35" text-anchor="end" class="t">15</text>
<text x="182.8" y="427.2" text-anchor="middle" class="t">length</text>
<text transform="translate(8.2,360.5) rotate(-90)" text-anchor="middle" class="t">mean %</text>
</g>
</svg>
</body></html>
